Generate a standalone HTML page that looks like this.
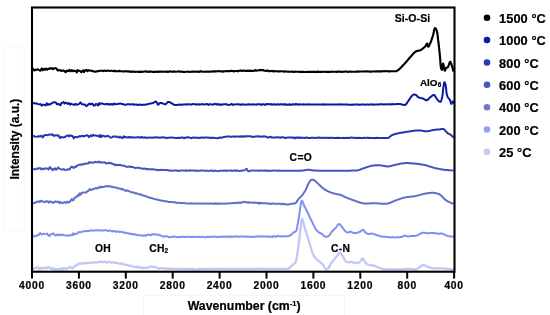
<!DOCTYPE html>
<html><head><meta charset="utf-8"><style>
html,body{margin:0;padding:0;background:#fff;width:550px;height:315px;overflow:hidden}
svg{display:block}
text{font-family:"Liberation Sans",Arial,sans-serif;font-weight:bold;fill:#000;stroke:#000;stroke-width:0.22px}
.tk{font-size:10.3px;letter-spacing:0.75px}
.lg{font-size:12.8px;letter-spacing:0.08px}
.an{font-size:10.3px;letter-spacing:0.35px}
.an2{font-size:9.9px}
.ax{font-size:12.3px}
.ay{font-size:11.95px}
</style></head><body>
<svg width="550" height="315" viewBox="0 0 550 315">
<rect x="4" y="46" width="20" height="185" fill="none" stroke="#f4f4f4" stroke-width="0.8"/>
<rect x="143.5" y="295.5" width="201" height="30" fill="none" stroke="#f6f6f6" stroke-width="0.8"/>
<path d="M33.0,268.6 L34.2,268.3 L35.4,268.3 L36.6,267.3 L37.8,267.4 L38.7,268.8 L39.8,268.3 L41.0,267.9 L42.1,268.7 L43.3,267.9 L44.6,267.9 L45.4,268.1 L46.3,268.3 L47.2,267.1 L48.2,267.6 L49.2,267.1 L50.4,268.6 L51.6,268.9 L52.8,268.0 L53.7,268.8 L54.6,269.6 L55.4,268.8 L56.3,269.1 L57.2,269.5 L58.1,269.1 L59.0,269.2 L59.9,269.6 L60.7,268.6 L62.0,268.1 L63.2,269.7 L64.3,268.0 L65.4,268.7 L66.4,268.9 L67.4,268.3 L68.3,267.7 L69.2,267.8 L70.4,267.1 L71.6,268.2 L72.6,268.2 L73.6,266.9 L74.6,266.3 L75.5,265.7 L76.4,265.1 L77.4,264.5 L78.5,263.9 L79.7,263.3 L80.9,263.6 L81.8,263.4 L82.7,264.0 L83.6,263.2 L84.7,263.4 L85.9,263.2 L87.0,263.0 L88.2,263.2 L89.4,262.9 L90.6,262.7 L91.9,262.6 L93.2,262.9 L94.4,262.3 L95.5,262.2 L96.7,262.4 L97.9,262.4 L99.1,261.7 L100.4,262.0 L101.6,262.0 L102.8,262.2 L104.0,262.0 L105.2,261.7 L106.4,262.6 L107.7,262.2 L108.9,261.9 L110.2,262.1 L111.4,262.6 L112.6,262.4 L113.8,262.4 L115.0,262.8 L116.2,262.9 L117.3,263.1 L118.2,263.3 L119.4,263.6 L120.6,263.4 L121.8,263.8 L123.0,263.9 L124.2,264.5 L125.4,264.8 L126.5,264.7 L127.7,265.1 L128.8,265.6 L130.0,266.1 L131.2,265.6 L132.4,266.2 L133.7,266.9 L134.9,266.8 L136.1,267.2 L137.3,266.6 L138.2,267.4 L139.1,267.2 L140.0,267.4 L140.9,267.9 L141.7,267.6 L142.6,267.9 L143.8,267.6 L145.0,268.1 L146.1,267.6 L147.3,268.0 L148.2,267.5 L149.4,267.1 L150.5,266.5 L151.6,266.7 L152.7,266.9 L153.6,266.6 L154.8,266.8 L155.9,267.2 L157.0,267.9 L158.0,268.5 L159.2,268.5 L160.1,268.3 L161.0,268.2 L162.2,268.2 L163.2,268.6 L164.5,268.5 L165.6,268.4 L166.4,268.5 L167.4,268.9 L168.5,268.4 L169.6,268.8 L170.7,268.8 L172.0,268.9 L172.8,268.9 L173.7,268.9 L174.6,268.9 L175.5,268.9 L176.5,269.0 L177.5,269.1 L178.5,269.0 L179.5,269.1 L180.4,268.9 L181.3,268.9 L182.3,268.9 L183.3,269.1 L184.3,268.9 L185.3,269.1 L186.4,269.2 L187.5,269.0 L188.6,269.0 L189.8,269.2 L190.9,269.0 L192.1,269.1 L193.3,269.0 L194.6,269.1 L195.8,269.3 L197.1,269.3 L198.3,269.2 L199.2,268.7 L200.0,269.3 L200.9,268.9 L201.8,269.1 L202.6,269.1 L203.5,269.0 L204.4,269.0 L205.3,268.9 L206.1,269.1 L207.0,269.1 L207.9,268.8 L208.8,269.2 L209.6,268.8 L210.5,268.9 L211.4,269.0 L212.3,268.9 L213.2,268.9 L214.0,268.8 L214.9,268.8 L215.8,268.9 L216.6,269.0 L217.5,268.9 L218.4,268.9 L219.2,269.1 L220.5,268.7 L221.7,268.9 L223.0,268.9 L224.2,268.9 L225.4,269.0 L226.6,268.8 L227.9,268.8 L229.1,269.0 L230.4,269.1 L231.3,269.0 L232.1,269.2 L233.0,269.2 L233.9,268.8 L234.7,268.8 L235.6,268.8 L236.5,268.8 L237.4,269.1 L238.3,268.8 L239.2,268.9 L240.0,268.8 L240.9,268.9 L241.8,268.8 L242.7,268.8 L243.6,268.8 L244.5,268.8 L245.4,269.2 L246.2,268.7 L247.1,269.1 L248.0,268.9 L248.9,268.8 L249.7,269.0 L250.6,269.2 L251.5,268.8 L252.3,269.0 L253.6,269.0 L254.8,269.0 L256.1,269.0 L257.3,268.9 L258.5,268.7 L259.6,268.9 L260.8,268.8 L261.9,268.7 L263.0,268.7 L264.0,269.0 L265.1,268.9 L266.1,268.9 L267.0,269.2 L268.0,268.9 L268.9,269.0 L269.7,268.9 L271.0,268.9 L272.0,268.8 L273.0,268.9 L273.9,268.9 L274.8,268.9 L275.7,269.3 L276.9,268.7 L278.0,269.0 L279.1,269.0 L280.1,268.8 L281.1,269.2 L282.0,269.1 L283.0,269.0 L283.8,268.9 L285.0,268.9 L285.3,269.0 L285.7,269.0 L286.0,269.0 L286.4,269.0 L286.8,269.0 L287.2,269.0 L287.6,268.9 L288.0,268.8 L288.3,268.6 L288.7,268.4 L289.0,268.2 L289.4,267.9 L289.7,267.6 L290.0,267.3 L290.4,267.0 L290.7,266.7 L291.0,266.4 L291.4,266.1 L291.7,265.8 L292.0,265.5 L292.4,265.2 L292.7,265.0 L293.0,264.7 L293.3,264.4 L293.7,264.1 L294.0,263.9 L294.4,263.6 L294.7,263.4 L295.0,263.1 L295.3,262.7 L295.5,262.4 L295.6,262.1 L295.8,261.8 L295.9,261.4 L296.0,261.0 L296.1,260.6 L296.2,260.2 L296.3,259.8 L296.4,259.4 L296.5,258.9 L296.6,258.5 L296.7,258.0 L296.8,257.7 L296.8,257.3 L296.9,256.9 L297.0,256.6 L297.0,256.2 L297.1,255.8 L297.2,255.4 L297.2,255.0 L297.3,254.6 L297.3,254.2 L297.4,253.8 L297.4,253.3 L297.5,252.9 L297.5,252.5 L297.6,252.1 L297.6,251.6 L297.7,251.2 L297.7,250.8 L297.8,250.4 L297.8,249.9 L297.9,249.5 L297.9,249.1 L298.0,248.7 L298.1,248.3 L298.1,247.9 L298.2,247.5 L298.2,247.1 L298.3,246.7 L298.3,246.3 L298.4,245.9 L298.5,245.5 L298.5,245.1 L298.6,244.7 L298.6,244.3 L298.7,243.9 L298.7,243.5 L298.8,243.0 L298.9,242.6 L298.9,242.2 L299.0,241.8 L299.0,241.4 L299.1,241.0 L299.1,240.6 L299.2,240.1 L299.2,239.7 L299.3,239.3 L299.3,238.9 L299.4,238.5 L299.4,238.1 L299.5,237.7 L299.5,237.3 L299.6,236.9 L299.6,236.5 L299.6,236.1 L299.7,235.7 L299.7,235.3 L299.8,234.9 L299.8,234.5 L299.8,234.0 L299.9,233.6 L299.9,233.2 L299.9,232.8 L300.0,232.4 L300.0,232.0 L300.1,231.6 L300.1,231.2 L300.2,230.8 L300.2,230.4 L300.2,230.0 L300.3,229.6 L300.3,229.2 L300.4,228.8 L300.4,228.4 L300.5,228.0 L300.6,227.6 L300.6,227.1 L300.7,226.6 L300.8,226.1 L300.8,225.5 L300.9,225.0 L301.0,224.4 L301.1,223.9 L301.1,223.4 L301.2,222.8 L301.3,222.3 L301.4,221.8 L301.4,221.4 L301.5,220.9 L301.6,220.5 L301.7,220.1 L301.8,219.8 L301.8,219.5 L301.9,219.3 L302.0,219.1 L302.1,219.0 L302.2,219.0 L302.3,219.0 L302.4,219.2 L302.5,219.4 L302.6,219.7 L302.8,220.1 L302.9,220.5 L303.0,220.9 L303.1,221.4 L303.2,221.9 L303.4,222.5 L303.5,223.0 L303.6,223.6 L303.7,224.1 L303.9,224.6 L304.0,225.1 L304.1,225.5 L304.2,225.9 L304.3,226.3 L304.5,226.7 L304.6,227.1 L304.7,227.5 L304.8,228.0 L304.9,228.4 L305.0,228.8 L305.2,229.2 L305.3,229.6 L305.4,230.0 L305.5,230.4 L305.6,230.8 L305.8,231.2 L305.9,231.6 L306.0,232.0 L306.1,232.4 L306.3,232.8 L306.4,233.2 L306.5,233.6 L306.6,234.0 L306.8,234.4 L306.9,234.7 L307.0,235.1 L307.2,235.5 L307.3,235.9 L307.5,236.3 L307.6,236.7 L307.7,237.1 L307.9,237.6 L308.0,238.0 L308.1,238.3 L308.2,238.7 L308.3,239.1 L308.4,239.4 L308.5,239.8 L308.7,240.2 L308.8,240.6 L308.9,241.0 L309.0,241.4 L309.1,241.8 L309.2,242.2 L309.3,242.6 L309.4,243.0 L309.5,243.4 L309.7,243.8 L309.8,244.2 L309.9,244.6 L310.0,245.0 L310.1,245.4 L310.2,245.8 L310.4,246.2 L310.5,246.6 L310.6,246.9 L310.7,247.3 L310.8,247.7 L311.0,248.1 L311.1,248.5 L311.2,249.0 L311.3,249.4 L311.5,249.8 L311.6,250.2 L311.7,250.6 L311.9,251.0 L312.0,251.4 L312.1,251.8 L312.3,252.2 L312.4,252.6 L312.5,253.0 L312.7,253.3 L312.8,253.7 L313.0,254.0 L313.1,254.4 L313.3,254.7 L313.5,255.1 L313.7,255.5 L313.9,255.8 L314.1,256.2 L314.3,256.5 L314.5,256.8 L314.8,257.2 L315.0,257.5 L315.2,257.8 L315.5,258.1 L315.7,258.4 L316.0,258.7 L316.3,259.0 L316.6,259.3 L316.9,259.6 L317.3,259.9 L317.6,260.2 L318.0,260.4 L318.3,260.7 L318.7,261.0 L319.0,261.2 L319.4,261.5 L319.7,261.7 L320.0,262.0 L320.3,262.3 L320.6,262.5 L320.9,262.8 L321.2,263.0 L321.5,263.3 L321.8,263.5 L322.1,263.8 L322.4,264.1 L322.7,264.4 L322.9,264.7 L323.2,265.0 L323.4,265.4 L323.7,265.8 L323.9,266.3 L324.1,266.7 L324.4,267.1 L324.6,267.6 L324.8,268.0 L325.1,268.3 L325.3,268.6 L325.5,268.9 L325.8,269.1 L326.0,269.2 L326.4,269.3 L326.8,269.2 L327.2,269.0 L327.6,268.8 L328.0,268.5 L328.2,268.3 L328.4,268.1 L328.6,267.8 L328.8,267.5 L329.0,267.2 L329.2,266.8 L329.4,266.4 L329.6,266.0 L329.8,265.7 L330.0,265.3 L330.2,264.8 L330.4,264.5 L330.7,264.1 L330.9,263.7 L331.1,263.3 L331.3,263.0 L331.5,262.6 L331.8,262.3 L332.0,262.0 L332.3,261.6 L332.6,261.3 L332.8,260.9 L333.1,260.6 L333.4,260.3 L333.6,260.0 L333.9,259.6 L334.1,259.3 L334.4,259.0 L334.7,258.7 L334.9,258.4 L335.2,258.0 L335.5,257.7 L335.8,257.4 L336.1,257.0 L336.3,256.7 L336.6,256.4 L336.9,256.0 L337.2,255.7 L337.4,255.4 L337.7,255.1 L338.0,254.7 L338.2,254.3 L338.5,253.9 L338.8,253.5 L339.0,253.2 L339.3,252.9 L339.5,252.7 L339.8,252.6 L340.0,252.7 L340.3,252.8 L340.6,253.0 L340.8,253.4 L341.1,253.7 L341.4,254.1 L341.6,254.5 L341.9,255.0 L342.2,255.4 L342.4,255.8 L342.7,256.2 L342.9,256.5 L343.1,256.9 L343.4,257.3 L343.6,257.6 L343.8,258.0 L344.0,258.4 L344.2,258.8 L344.4,259.2 L344.6,259.6 L344.9,259.9 L345.1,260.3 L345.3,260.6 L345.6,260.9 L345.8,261.1 L346.2,261.4 L346.5,261.7 L346.9,261.9 L347.3,262.1 L347.7,262.2 L348.1,262.3 L348.5,262.4 L348.9,262.4 L349.4,262.2 L349.8,262.1 L350.3,261.9 L350.7,261.7 L351.2,261.7 L351.6,261.7 L352.0,261.9 L352.3,262.0 L352.7,262.2 L353.1,262.4 L353.5,262.5 L354.0,262.7 L354.4,262.8 L354.8,262.9 L355.2,262.9 L355.6,263.0 L356.0,263.0 L356.5,263.0 L356.9,263.0 L357.4,263.0 L357.8,262.9 L358.2,262.8 L358.6,262.7 L359.0,262.6 L359.4,262.4 L359.7,262.2 L360.0,261.8 L360.3,261.5 L360.6,261.0 L360.9,260.6 L361.1,260.1 L361.4,259.7 L361.6,259.2 L361.9,258.9 L362.1,258.6 L362.4,258.5 L362.6,258.4 L362.8,258.5 L363.1,258.7 L363.3,259.0 L363.5,259.4 L363.7,259.8 L363.9,260.3 L364.1,260.7 L364.4,261.2 L364.6,261.7 L364.8,262.1 L365.1,262.4 L365.4,262.7 L365.7,263.0 L366.0,263.2 L366.3,263.5 L366.6,263.7 L366.9,263.9 L367.3,264.2 L367.6,264.4 L368.0,264.5 L368.4,264.7 L368.8,264.8 L369.1,264.9 L369.5,265.0 L369.9,265.1 L370.4,265.1 L370.8,265.2 L371.2,265.2 L371.7,265.3 L372.1,265.3 L372.5,265.3 L373.0,265.4 L373.4,265.5 L373.8,265.6 L374.2,265.7 L374.6,265.9 L375.0,266.0 L375.4,266.2 L375.7,266.3 L376.1,266.5 L376.5,266.7 L376.9,266.8 L377.3,267.0 L377.6,267.2 L378.0,267.4 L378.4,267.5 L378.8,267.7 L379.2,267.8 L379.6,267.9 L379.9,268.0 L380.3,268.2 L380.7,268.3 L381.0,268.4 L381.4,268.5 L381.7,268.6 L382.1,268.7 L382.5,268.8 L382.9,268.9 L383.3,269.0 L383.7,269.1 L384.2,269.1 L384.7,269.2 L385.0,269.2 L385.3,269.3 L385.6,269.3 L385.9,269.3 L386.3,269.4 L386.7,269.4 L387.0,269.4 L387.4,269.4 L387.8,269.4 L388.2,269.5 L388.6,269.5 L389.0,269.5 L389.5,269.5 L389.9,269.5 L390.3,269.5 L390.8,269.5 L391.2,269.5 L391.7,269.5 L392.2,269.5 L392.6,269.5 L393.1,269.5 L393.5,269.5 L394.0,269.5 L394.5,269.5 L394.9,269.5 L395.4,269.5 L395.9,269.5 L396.3,269.5 L396.8,269.5 L397.2,269.5 L397.7,269.5 L398.1,269.5 L398.5,269.4 L398.9,269.4 L399.4,269.4 L399.8,269.4 L400.2,269.4 L400.5,269.4 L400.9,269.4 L401.3,269.4 L401.6,269.4 L402.0,269.3 L402.3,269.3 L402.6,269.3 L402.9,269.3 L403.2,269.3 L403.7,269.3 L404.2,269.2 L404.6,269.2 L405.0,269.2 L405.4,269.1 L405.8,269.1 L406.1,269.0 L406.5,269.0 L406.9,269.0 L407.2,268.9 L407.7,268.9 L408.1,268.9 L408.5,268.9 L408.9,268.9 L409.3,268.9 L409.7,269.0 L410.1,269.0 L410.6,269.1 L411.0,269.1 L411.5,269.2 L411.9,269.2 L412.4,269.3 L412.8,269.4 L413.3,269.4 L413.7,269.4 L414.1,269.5 L414.6,269.5 L415.0,269.5 L415.4,269.5 L415.7,269.4 L416.1,269.4 L416.4,269.3 L416.9,269.1 L417.3,268.9 L417.6,268.7 L418.0,268.5 L418.3,268.2 L418.7,267.9 L419.0,267.6 L419.3,267.3 L419.7,267.1 L420.1,266.9 L420.4,266.6 L420.8,266.3 L421.1,266.1 L421.5,265.8 L421.8,265.6 L422.2,265.4 L422.6,265.2 L422.9,265.1 L423.3,265.0 L423.7,265.0 L424.0,265.1 L424.4,265.2 L424.8,265.4 L425.1,265.6 L425.5,265.8 L425.9,266.0 L426.3,266.2 L426.7,266.4 L427.1,266.6 L427.4,266.7 L427.8,266.9 L428.2,267.0 L428.5,267.1 L428.9,267.2 L429.3,267.4 L429.7,267.5 L430.0,267.6 L430.4,267.7 L430.8,267.9 L431.2,268.0 L431.6,268.1 L432.1,268.2 L432.5,268.2 L432.9,268.3 L433.3,268.3 L433.7,268.4 L434.1,268.4 L434.5,268.4 L434.9,268.4 L435.3,268.4 L435.7,268.4 L436.1,268.4 L436.6,268.4 L437.0,268.4 L437.4,268.4 L437.9,268.4 L438.3,268.3 L438.7,268.3 L439.2,268.3 L439.6,268.3 L440.0,268.3 L440.4,268.3 L440.8,268.3 L441.2,268.3 L441.6,268.3 L442.1,268.3 L442.5,268.4 L442.9,268.4 L443.4,268.4 L443.8,268.4 L444.2,268.5 L444.6,268.5 L445.0,268.5 L445.4,268.6 L445.8,268.6 L446.2,268.6 L446.6,268.7 L447.0,268.7 L447.4,268.8 L447.8,268.8 L448.2,268.9 L448.7,268.9 L449.1,269.0 L449.5,269.0 L449.9,269.1 L450.3,269.2 L450.8,269.2 L451.2,269.3 L451.6,269.4 L452.0,269.5 L452.4,269.5 L452.8,269.6" stroke="#c0c8f5" stroke-width="2.3" fill="none" stroke-linejoin="round" stroke-linecap="round"/>
<path d="M33.0,235.4 L34.2,236.6 L35.4,236.2 L36.5,236.1 L37.7,234.7 L38.9,234.9 L40.1,232.9 L41.3,234.4 L42.5,234.2 L43.7,233.6 L44.9,233.9 L46.1,234.0 L47.3,233.6 L48.4,235.6 L49.6,236.1 L50.9,234.1 L52.1,234.1 L53.3,233.3 L54.5,234.9 L55.7,235.6 L56.9,234.5 L58.1,235.5 L59.4,234.2 L60.2,234.9 L61.1,235.3 L62.0,234.5 L62.8,235.2 L63.7,234.8 L64.9,235.5 L66.2,235.7 L67.4,235.5 L68.5,235.2 L69.6,235.8 L70.9,234.9 L72.1,235.3 L73.2,233.3 L74.3,234.8 L75.4,233.7 L76.5,233.8 L77.7,233.1 L78.9,232.1 L80.1,232.2 L81.2,232.2 L82.4,231.4 L83.7,231.4 L84.9,231.1 L86.1,231.2 L87.3,230.9 L88.6,230.9 L89.8,230.8 L91.1,230.3 L92.3,230.4 L93.6,230.4 L94.8,230.5 L96.1,230.1 L97.3,230.5 L98.6,230.6 L99.8,230.1 L101.0,230.6 L102.3,230.4 L103.5,230.6 L104.8,230.3 L106.0,230.3 L107.3,230.7 L108.5,230.9 L109.7,230.3 L111.0,230.9 L112.2,231.5 L113.5,231.0 L114.7,231.3 L115.9,231.7 L117.2,231.3 L118.4,231.5 L119.7,232.2 L120.9,231.7 L122.1,231.9 L123.2,232.3 L124.4,233.1 L125.5,232.5 L126.7,233.2 L127.9,233.2 L129.1,233.9 L130.0,233.5 L131.1,233.9 L132.3,234.0 L133.5,234.5 L134.4,234.3 L135.3,234.5 L136.1,234.6 L137.0,235.0 L137.9,235.3 L138.8,234.9 L139.6,235.1 L140.9,235.6 L142.1,235.3 L143.2,235.8 L144.2,235.2 L145.5,236.0 L146.4,235.3 L147.6,234.6 L148.8,234.8 L150.0,234.9 L150.9,235.3 L151.7,234.5 L152.6,233.9 L153.4,234.5 L154.7,234.5 L155.9,234.2 L157.2,234.8 L158.4,234.7 L159.6,235.3 L160.8,235.5 L161.9,236.2 L163.0,236.7 L164.0,236.3 L165.0,236.4 L165.9,236.3 L166.8,236.3 L167.8,236.6 L168.8,237.0 L169.9,237.3 L171.1,236.9 L172.3,237.0 L173.5,236.5 L174.8,236.6 L175.7,236.8 L176.6,237.0 L177.5,237.0 L178.4,236.9 L179.3,237.4 L180.2,236.9 L181.2,236.8 L182.1,237.0 L183.1,236.6 L184.0,236.9 L185.1,236.9 L186.1,236.8 L187.2,236.8 L188.2,236.6 L189.3,237.1 L190.4,236.8 L191.6,236.9 L192.7,236.8 L193.9,237.0 L195.1,237.0 L196.3,236.8 L197.5,236.8 L198.8,236.9 L200.0,236.8 L201.3,237.1 L202.2,236.7 L203.0,236.8 L203.9,236.9 L204.7,237.3 L205.6,237.3 L206.5,236.8 L207.3,237.0 L208.2,236.7 L209.1,237.0 L209.9,236.7 L210.8,236.7 L211.7,236.9 L212.5,236.6 L213.4,236.9 L214.3,236.6 L215.1,236.6 L216.0,236.6 L216.8,237.0 L218.1,236.9 L219.4,236.7 L220.6,236.6 L221.9,237.1 L223.1,236.4 L224.3,236.6 L225.5,236.8 L226.6,236.6 L227.8,236.8 L228.9,236.5 L230.0,236.9 L230.9,236.4 L231.8,236.9 L232.6,236.6 L233.5,237.0 L234.3,236.5 L235.6,236.2 L236.9,236.7 L238.1,236.4 L239.3,236.8 L240.6,236.4 L241.8,236.6 L243.0,236.5 L244.2,236.7 L245.4,236.4 L246.5,236.8 L247.7,236.5 L248.9,236.9 L250.0,236.6 L251.2,237.1 L252.4,236.8 L253.5,236.7 L254.7,236.7 L255.8,236.5 L256.9,236.7 L258.1,236.1 L259.2,236.5 L260.4,236.8 L261.3,236.0 L262.2,236.5 L263.1,236.8 L264.0,236.6 L264.9,236.4 L265.8,236.4 L266.7,236.3 L267.7,237.0 L268.6,236.6 L269.6,236.7 L270.5,236.4 L271.4,236.9 L272.3,236.9 L273.3,236.1 L274.2,236.6 L275.0,236.5 L275.9,236.9 L276.8,236.0 L278.0,235.9 L279.2,236.3 L280.3,236.5 L281.4,236.4 L282.4,236.0 L283.3,236.4 L284.3,236.4 L285.6,236.2 L286.1,236.2 L286.5,236.3 L286.9,236.3 L287.2,236.3 L287.6,236.3 L288.0,236.2 L288.4,236.1 L288.8,236.0 L289.1,235.8 L289.5,235.7 L289.9,235.5 L290.3,235.3 L290.6,235.1 L291.0,234.9 L291.3,234.7 L291.6,234.4 L291.9,234.1 L292.2,233.8 L292.5,233.5 L292.7,233.2 L293.0,232.9 L293.3,232.6 L293.7,232.4 L294.1,232.2 L294.6,232.1 L295.0,231.9 L295.4,231.7 L295.8,231.4 L296.0,231.2 L296.1,230.9 L296.3,230.6 L296.4,230.3 L296.5,229.9 L296.7,229.5 L296.8,229.1 L296.9,228.7 L297.0,228.3 L297.0,227.8 L297.1,227.4 L297.2,226.9 L297.3,226.4 L297.4,226.0 L297.4,225.5 L297.5,225.1 L297.6,224.6 L297.7,224.2 L297.8,223.8 L297.9,223.4 L297.9,223.0 L298.0,222.6 L298.1,222.2 L298.2,221.8 L298.2,221.4 L298.3,221.0 L298.4,220.6 L298.4,220.2 L298.5,219.8 L298.6,219.4 L298.6,219.0 L298.7,218.6 L298.8,218.2 L298.8,217.8 L298.9,217.3 L298.9,216.9 L299.0,216.5 L299.1,216.1 L299.1,215.7 L299.2,215.3 L299.3,214.9 L299.3,214.5 L299.4,214.1 L299.4,213.7 L299.5,213.2 L299.6,212.8 L299.6,212.4 L299.7,212.0 L299.7,211.6 L299.8,211.1 L299.8,210.7 L299.9,210.3 L300.0,209.9 L300.0,209.5 L300.1,209.1 L300.1,208.7 L300.2,208.3 L300.2,207.9 L300.3,207.5 L300.4,207.1 L300.4,206.8 L300.5,206.4 L300.6,205.9 L300.7,205.4 L300.7,204.9 L300.8,204.4 L300.9,203.8 L301.0,203.3 L301.1,202.8 L301.2,202.3 L301.3,201.9 L301.4,201.5 L301.5,201.2 L301.6,200.9 L301.7,200.8 L301.8,200.7 L302.0,200.8 L302.3,201.1 L302.5,201.6 L302.8,202.1 L303.0,202.6 L303.2,203.0 L303.3,203.4 L303.4,203.8 L303.6,204.2 L303.7,204.6 L303.8,205.0 L303.9,205.4 L304.1,205.8 L304.3,206.2 L304.6,206.6 L304.8,206.9 L305.0,207.3 L305.3,207.7 L305.5,208.0 L305.7,208.4 L305.8,208.7 L306.0,209.1 L306.2,209.5 L306.4,209.9 L306.6,210.3 L306.8,210.7 L307.0,211.1 L307.2,211.5 L307.4,211.8 L307.5,212.2 L307.7,212.6 L307.9,212.9 L308.0,213.3 L308.2,213.7 L308.4,214.1 L308.6,214.5 L308.7,214.9 L308.9,215.3 L309.1,215.7 L309.3,216.1 L309.4,216.4 L309.6,216.8 L309.8,217.2 L310.0,217.6 L310.2,217.9 L310.3,218.3 L310.5,218.7 L310.7,219.0 L310.9,219.4 L311.0,219.7 L311.2,220.1 L311.4,220.4 L311.6,220.8 L311.7,221.2 L311.9,221.5 L312.1,221.9 L312.3,222.3 L312.5,222.7 L312.7,223.0 L312.8,223.4 L313.0,223.8 L313.2,224.2 L313.4,224.6 L313.6,225.0 L313.8,225.4 L314.0,225.8 L314.1,226.2 L314.3,226.6 L314.5,227.0 L314.7,227.4 L314.9,227.7 L315.1,228.1 L315.3,228.4 L315.5,228.7 L315.8,229.1 L316.0,229.5 L316.3,229.9 L316.5,230.2 L316.8,230.6 L317.1,230.9 L317.4,231.2 L317.7,231.5 L318.0,231.8 L318.3,232.0 L318.7,232.3 L319.1,232.5 L319.5,232.7 L319.9,232.8 L320.3,233.0 L320.7,233.2 L321.1,233.4 L321.5,233.6 L321.8,233.8 L322.2,234.1 L322.5,234.4 L322.8,234.8 L323.1,235.1 L323.4,235.5 L323.7,235.8 L324.0,236.0 L324.4,236.2 L324.8,236.4 L325.2,236.6 L325.7,236.7 L326.1,236.8 L326.5,236.8 L326.9,236.7 L327.2,236.6 L327.6,236.5 L327.9,236.3 L328.3,236.0 L328.7,235.8 L329.0,235.5 L329.3,235.3 L329.5,235.0 L329.7,234.7 L330.0,234.4 L330.2,234.1 L330.5,233.7 L330.7,233.4 L330.9,233.0 L331.2,232.6 L331.4,232.3 L331.7,231.9 L331.9,231.6 L332.2,231.3 L332.5,231.0 L332.8,230.7 L333.1,230.4 L333.4,230.1 L333.7,229.8 L334.0,229.5 L334.3,229.2 L334.6,228.9 L334.9,228.6 L335.2,228.3 L335.5,228.0 L335.8,227.7 L336.1,227.4 L336.4,227.0 L336.6,226.6 L336.9,226.2 L337.2,225.8 L337.5,225.4 L337.7,225.0 L338.0,224.7 L338.3,224.4 L338.6,224.2 L338.8,224.1 L339.1,224.0 L339.4,224.0 L339.7,224.2 L339.9,224.4 L340.2,224.7 L340.5,225.0 L340.8,225.4 L341.1,225.8 L341.3,226.2 L341.6,226.6 L341.9,227.0 L342.2,227.3 L342.5,227.6 L342.7,227.9 L343.0,228.2 L343.2,228.6 L343.5,228.9 L343.7,229.3 L344.0,229.6 L344.2,230.0 L344.5,230.3 L344.8,230.6 L345.0,230.9 L345.3,231.2 L345.5,231.4 L345.8,231.6 L346.2,231.8 L346.6,232.1 L347.0,232.2 L347.4,232.4 L347.8,232.5 L348.1,232.5 L348.5,232.5 L348.9,232.4 L349.2,232.2 L349.6,231.9 L349.9,231.7 L350.3,231.6 L350.6,231.6 L351.0,231.8 L351.4,231.9 L351.8,232.2 L352.2,232.4 L352.6,232.6 L353.1,232.8 L353.5,233.0 L353.9,233.1 L354.3,233.1 L354.7,233.2 L355.1,233.1 L355.5,233.1 L355.9,233.1 L356.3,233.0 L356.7,232.9 L357.1,232.8 L357.5,232.7 L357.9,232.6 L358.3,232.4 L358.7,232.3 L359.1,232.1 L359.4,231.9 L359.8,231.7 L360.2,231.5 L360.6,231.3 L360.9,231.1 L361.2,230.9 L361.6,230.6 L362.0,230.3 L362.3,230.0 L362.6,229.8 L363.0,229.8 L363.3,229.9 L363.6,230.1 L363.9,230.4 L364.2,230.8 L364.5,231.2 L364.8,231.7 L365.1,232.1 L365.4,232.4 L365.7,232.7 L366.1,233.0 L366.4,233.2 L366.8,233.4 L367.2,233.6 L367.6,233.8 L368.0,233.9 L368.4,234.0 L368.8,234.0 L369.1,234.0 L369.5,234.0 L369.9,233.9 L370.3,233.8 L370.7,233.7 L371.1,233.6 L371.6,233.6 L372.0,233.6 L372.4,233.6 L372.7,233.7 L373.1,233.8 L373.5,233.9 L373.9,234.0 L374.2,234.2 L374.6,234.3 L375.0,234.5 L375.4,234.6 L375.8,234.8 L376.2,234.9 L376.6,235.1 L377.0,235.2 L377.4,235.3 L377.8,235.4 L378.2,235.5 L378.5,235.6 L378.9,235.7 L379.2,235.9 L379.6,236.0 L379.9,236.1 L380.3,236.3 L381.5,236.5 L382.4,236.5 L383.5,236.8 L384.5,236.7 L385.7,236.8 L386.9,237.1 L387.8,237.0 L388.7,237.0 L389.6,237.2 L390.6,237.4 L391.5,237.3 L392.5,237.1 L393.4,237.3 L394.4,237.4 L395.3,237.5 L396.2,237.2 L397.0,237.2 L398.3,237.3 L399.4,237.4 L400.1,237.1 L400.4,237.0 L400.7,237.0 L401.0,237.0 L401.3,236.9 L401.5,236.9 L402.1,236.8 L402.5,236.6 L402.9,236.4 L403.3,236.2 L403.7,236.0 L404.0,235.9 L404.4,235.8 L404.8,235.7 L405.2,235.7 L405.6,235.8 L406.0,235.9 L406.4,236.1 L406.9,236.2 L407.3,236.4 L407.7,236.5 L408.1,236.5 L408.5,236.5 L408.9,236.4 L409.3,236.4 L409.7,236.3 L410.1,236.2 L410.5,236.1 L411.0,236.0 L411.4,235.9 L411.8,235.9 L412.2,235.9 L412.6,235.9 L413.0,235.9 L413.5,235.9 L413.9,235.9 L414.4,235.9 L414.8,235.9 L415.2,235.9 L415.6,235.8 L416.0,235.8 L416.4,235.7 L416.8,235.6 L417.2,235.4 L417.6,235.2 L417.9,235.0 L418.3,234.8 L418.6,234.6 L419.0,234.4 L419.3,234.2 L419.7,234.0 L420.1,233.8 L420.5,233.6 L420.9,233.4 L421.3,233.2 L421.7,233.1 L422.1,232.9 L422.5,232.8 L423.0,232.7 L423.4,232.7 L423.8,232.7 L424.2,232.7 L424.6,232.7 L425.0,232.8 L425.4,232.9 L425.9,232.9 L426.3,233.0 L426.7,233.1 L427.2,233.1 L427.6,233.2 L428.0,233.2 L428.4,233.2 L428.8,233.2 L429.2,233.2 L429.6,233.1 L430.0,233.1 L430.5,233.0 L430.9,233.0 L431.3,232.9 L431.7,232.9 L432.1,232.9 L432.5,232.9 L432.9,232.9 L433.3,232.9 L433.7,233.0 L434.2,233.0 L434.6,233.1 L435.0,233.2 L435.4,233.3 L435.8,233.4 L436.3,233.5 L436.7,233.5 L437.1,233.6 L437.5,233.7 L437.9,233.7 L438.3,233.7 L438.7,233.7 L439.2,233.7 L439.6,233.6 L440.0,233.6 L440.4,233.5 L440.8,233.5 L441.2,233.5 L441.6,233.5 L442.0,233.6 L442.4,233.7 L442.8,233.8 L443.1,233.9 L443.5,234.1 L443.9,234.3 L444.3,234.5 L444.7,234.7 L445.1,234.9 L445.5,235.1 L445.9,235.3 L446.2,235.4 L446.6,235.6 L447.0,235.7 L447.4,235.8 L447.9,235.9 L448.3,236.0 L448.7,236.1 L449.1,236.2 L449.5,236.3 L450.0,236.4 L450.3,236.4 L450.7,236.5 L451.1,236.5 L451.6,236.5 L452.0,236.5 L452.4,236.5 L452.8,236.5 L453.2,236.5 L453.6,236.5" stroke="#8090ee" stroke-width="2.0" fill="none" stroke-linejoin="round" stroke-linecap="round"/>
<path d="M33.0,203.2 L34.2,203.1 L35.3,202.7 L36.4,201.8 L37.7,201.9 L38.6,201.2 L39.7,202.1 L40.7,200.7 L41.8,201.2 L43.0,201.4 L44.3,202.0 L45.1,202.1 L46.0,201.3 L46.9,201.5 L47.8,201.3 L48.7,202.6 L49.6,201.9 L50.4,201.2 L51.3,202.2 L52.2,202.4 L53.1,202.9 L54.3,201.8 L55.5,201.5 L56.6,202.1 L57.8,201.6 L58.7,201.5 L59.6,203.2 L60.5,202.0 L61.4,202.6 L62.6,203.2 L63.8,202.4 L64.9,202.0 L66.0,203.1 L67.3,201.6 L68.5,202.5 L69.6,202.1 L70.7,200.6 L71.8,199.0 L72.8,200.5 L73.7,199.8 L74.7,197.4 L75.6,197.5 L76.6,197.1 L77.6,195.3 L78.6,195.8 L79.7,193.2 L80.7,194.6 L81.8,192.9 L83.0,192.4 L84.1,192.6 L85.2,192.6 L86.3,192.4 L87.4,191.2 L88.6,190.8 L89.7,189.0 L90.9,190.1 L92.1,189.5 L93.2,189.0 L94.4,188.7 L95.6,188.0 L96.8,188.6 L98.1,187.6 L99.3,187.7 L100.5,186.6 L101.6,187.5 L102.7,186.8 L103.6,186.9 L104.5,186.7 L105.7,186.2 L106.9,186.0 L108.2,186.6 L109.4,186.1 L110.6,186.7 L111.8,186.6 L113.0,187.2 L114.3,187.3 L115.5,187.6 L116.7,187.7 L117.9,188.5 L119.1,188.6 L120.3,188.7 L121.5,189.4 L122.7,188.9 L123.8,189.9 L125.0,190.4 L126.1,191.0 L127.2,190.3 L128.4,190.9 L129.6,191.3 L130.7,192.1 L131.9,192.3 L133.0,192.5 L134.2,192.6 L135.4,193.4 L136.6,193.2 L137.8,193.9 L139.1,194.4 L140.2,194.2 L141.3,194.5 L142.4,195.4 L143.5,195.5 L144.7,195.9 L145.8,196.3 L147.0,196.6 L148.2,197.3 L149.4,197.3 L150.6,198.1 L151.8,198.0 L152.9,198.6 L154.1,198.9 L155.2,199.1 L156.4,199.6 L157.5,199.5 L158.7,200.1 L159.9,200.2 L161.1,200.6 L162.3,200.7 L163.5,201.1 L164.7,201.2 L166.0,201.2 L167.2,201.4 L168.3,201.9 L169.5,201.9 L170.7,201.9 L171.9,202.1 L173.1,202.2 L174.3,202.1 L175.5,202.5 L176.7,203.0 L178.0,202.8 L179.2,202.7 L180.4,202.9 L181.7,203.2 L182.9,203.1 L184.1,203.1 L185.3,203.3 L186.5,203.4 L187.7,203.5 L188.9,203.5 L190.0,203.4 L191.2,203.3 L192.4,203.6 L193.6,203.6 L194.8,203.5 L196.0,203.6 L197.2,203.6 L198.4,203.4 L199.7,203.7 L200.5,203.6 L201.4,203.4 L202.3,203.5 L203.4,203.8 L204.6,203.5 L205.7,203.6 L206.9,203.6 L208.1,203.8 L209.4,203.6 L210.7,203.5 L211.5,203.6 L212.4,203.5 L213.2,203.6 L214.1,204.0 L215.0,203.3 L215.8,203.7 L216.7,203.6 L217.6,203.7 L218.4,203.6 L219.3,203.8 L220.5,203.5 L221.8,203.7 L223.0,203.6 L224.2,203.6 L225.4,203.7 L226.5,203.6 L227.6,203.6 L228.7,203.4 L229.7,203.3 L230.9,203.3 L231.8,203.2 L233.0,203.0 L234.2,202.9 L235.3,203.4 L236.4,202.7 L237.4,202.8 L238.6,203.0 L239.8,202.4 L240.6,203.0 L241.5,202.6 L242.6,202.1 L243.6,201.8 L244.7,202.1 L245.8,202.2 L246.9,202.3 L248.1,202.7 L249.2,202.3 L250.5,202.6 L251.7,202.7 L252.9,202.8 L254.2,202.6 L255.1,202.8 L255.9,202.8 L256.8,202.9 L257.6,202.8 L258.5,203.0 L259.3,203.6 L260.2,202.9 L261.1,203.2 L261.9,202.9 L263.2,203.3 L264.4,203.2 L265.7,203.3 L266.9,203.5 L268.1,203.4 L269.2,203.2 L270.4,204.1 L271.3,204.0 L272.2,203.3 L273.1,203.7 L274.0,203.8 L274.9,203.6 L275.8,203.9 L276.8,203.7 L277.7,203.8 L278.6,203.7 L279.5,203.8 L280.4,203.7 L281.3,204.2 L282.2,204.1 L283.1,203.8 L284.0,204.0 L285.2,204.2 L286.4,204.5 L287.5,204.4 L288.6,204.5 L289.6,204.1 L290.3,203.9 L290.6,203.9 L290.8,203.9 L291.1,203.9 L291.4,203.9 L291.7,203.8 L291.9,203.8 L292.4,203.7 L292.9,203.7 L293.4,203.6 L293.8,203.6 L294.2,203.5 L294.6,203.4 L294.9,203.3 L295.3,203.2 L295.6,203.0 L295.9,202.8 L296.2,202.5 L296.5,202.2 L296.7,201.9 L296.9,201.5 L297.1,201.1 L297.4,200.7 L297.6,200.3 L297.8,199.9 L298.1,199.5 L298.3,199.2 L298.6,198.9 L298.9,198.6 L299.2,198.3 L299.4,198.1 L299.7,197.8 L300.0,197.5 L300.4,197.2 L300.7,196.9 L301.0,196.6 L301.3,196.3 L301.5,195.9 L301.8,195.6 L302.1,195.3 L302.4,195.0 L302.6,194.6 L302.9,194.3 L303.1,194.0 L303.3,193.6 L303.6,193.3 L303.8,192.9 L304.1,192.6 L304.3,192.2 L304.5,191.9 L304.7,191.5 L305.0,191.1 L305.2,190.8 L305.4,190.4 L305.6,190.0 L305.8,189.6 L306.0,189.3 L306.1,188.9 L306.3,188.5 L306.5,188.1 L306.7,187.7 L306.8,187.3 L307.0,187.0 L307.1,186.6 L307.3,186.2 L307.4,185.8 L307.6,185.4 L307.8,185.0 L307.9,184.7 L308.1,184.3 L308.2,184.0 L308.4,183.7 L308.6,183.3 L308.9,182.9 L309.1,182.5 L309.3,182.1 L309.6,181.7 L309.8,181.3 L310.0,181.0 L310.3,180.7 L310.5,180.5 L310.8,180.2 L311.2,180.0 L311.5,179.8 L311.9,179.7 L312.3,179.7 L312.7,179.7 L313.1,179.9 L313.5,180.0 L313.9,180.2 L314.2,180.3 L314.5,180.6 L314.9,180.8 L315.3,181.1 L315.6,181.3 L315.8,181.5 L316.1,181.8 L316.4,182.1 L316.7,182.4 L317.0,182.7 L317.4,183.0 L317.7,183.3 L318.0,183.6 L318.3,184.0 L318.7,184.3 L319.0,184.6 L319.3,184.9 L319.6,185.2 L319.9,185.4 L320.2,185.7 L320.5,186.0 L320.8,186.3 L321.0,186.5 L321.3,186.8 L321.6,187.1 L321.9,187.4 L322.3,187.6 L322.6,187.9 L322.9,188.1 L323.2,188.4 L323.6,188.7 L323.9,188.9 L324.2,189.1 L324.5,189.3 L324.9,189.5 L325.2,189.8 L325.6,190.0 L325.9,190.2 L326.3,190.4 L326.6,190.6 L327.0,190.8 L327.4,191.0 L327.7,191.2 L328.1,191.3 L328.5,191.5 L328.8,191.7 L329.2,191.9 L329.6,192.0 L330.0,192.2 L330.3,192.4 L330.7,192.5 L331.1,192.7 L331.5,192.8 L331.9,192.9 L332.4,193.1 L332.8,193.2 L333.3,193.3 L333.7,193.4 L334.1,193.5 L334.6,193.6 L335.0,193.7 L335.4,193.8 L335.8,193.9 L336.2,194.0 L336.6,194.1 L336.9,194.2 L337.3,194.2 L337.6,194.3 L338.1,194.4 L338.5,194.4 L338.8,194.5 L339.2,194.5 L339.6,194.6 L340.0,194.7 L340.3,194.8 L340.6,194.9 L340.9,195.0 L341.3,195.2 L341.6,195.4 L342.0,195.5 L342.4,195.7 L342.8,195.9 L343.1,196.1 L343.5,196.3 L343.9,196.5 L344.4,196.7 L344.8,196.9 L345.2,197.1 L345.6,197.2 L346.0,197.4 L346.4,197.6 L346.8,197.7 L347.1,197.9 L347.5,198.0 L347.9,198.2 L348.3,198.3 L348.6,198.5 L349.0,198.6 L349.4,198.8 L349.8,198.9 L350.2,199.1 L350.6,199.2 L351.0,199.4 L351.4,199.5 L351.8,199.7 L352.2,199.8 L352.6,200.0 L353.0,200.1 L353.4,200.3 L353.8,200.4 L354.2,200.5 L354.6,200.7 L355.0,200.8 L355.4,200.9 L355.8,201.1 L356.2,201.2 L356.5,201.3 L356.9,201.5 L357.3,201.6 L357.7,201.8 L358.1,201.9 L358.5,202.0 L358.8,202.2 L359.2,202.3 L359.6,202.4 L360.0,202.6 L360.4,202.7 L360.8,202.8 L361.2,202.9 L361.6,203.0 L362.0,203.1 L362.4,203.2 L362.8,203.3 L363.2,203.3 L363.6,203.4 L364.0,203.4 L364.4,203.5 L364.8,203.5 L365.2,203.5 L365.6,203.6 L366.0,203.6 L366.4,203.6 L366.8,203.6 L367.2,203.5 L367.6,203.5 L368.0,203.5 L368.4,203.5 L368.8,203.5 L369.2,203.4 L369.6,203.4 L370.0,203.4 L370.5,203.4 L370.9,203.3 L371.3,203.3 L371.7,203.3 L372.2,203.3 L372.6,203.2 L373.0,203.2 L373.4,203.2 L373.9,203.2 L374.3,203.2 L374.7,203.2 L375.1,203.2 L375.5,203.2 L375.9,203.3 L376.3,203.3 L376.7,203.3 L377.1,203.3 L377.5,203.4 L377.9,203.4 L378.3,203.4 L378.8,203.5 L379.2,203.5 L379.6,203.5 L380.0,203.6 L380.4,203.6 L380.9,203.6 L381.3,203.7 L381.7,203.7 L382.1,203.7 L382.5,203.8 L382.9,203.8 L383.3,203.8 L383.8,203.8 L384.2,203.8 L384.6,203.8 L384.9,203.8 L385.3,203.8 L385.7,203.8 L386.1,203.7 L386.5,203.7 L386.8,203.7 L387.2,203.6 L387.6,203.5 L388.1,203.4 L388.5,203.3 L388.9,203.2 L389.3,203.1 L389.7,203.0 L390.1,202.8 L390.5,202.7 L390.9,202.5 L391.2,202.3 L391.6,202.2 L392.0,202.0 L392.4,201.8 L392.8,201.7 L393.1,201.5 L393.5,201.3 L393.9,201.2 L394.3,201.0 L394.6,200.8 L395.0,200.7 L395.4,200.5 L395.8,200.4 L396.2,200.3 L396.6,200.1 L397.0,200.0 L397.3,199.8 L397.7,199.7 L398.1,199.6 L398.5,199.4 L398.9,199.3 L399.3,199.2 L399.6,199.0 L400.0,198.9 L400.4,198.8 L400.8,198.6 L401.2,198.5 L401.6,198.4 L402.0,198.3 L402.4,198.1 L402.8,198.0 L403.2,197.9 L403.6,197.8 L404.0,197.7 L404.4,197.6 L404.8,197.5 L405.1,197.4 L405.5,197.4 L405.9,197.3 L406.3,197.2 L406.7,197.2 L407.1,197.1 L407.5,197.1 L407.9,197.0 L408.3,197.0 L408.7,196.9 L409.1,196.9 L409.5,196.8 L409.9,196.8 L410.3,196.8 L410.7,196.7 L411.1,196.7 L411.5,196.6 L411.9,196.6 L412.3,196.5 L412.7,196.5 L413.1,196.4 L413.5,196.4 L413.9,196.3 L414.3,196.2 L414.7,196.2 L415.1,196.1 L415.5,196.0 L415.9,195.9 L416.3,195.8 L416.7,195.8 L417.1,195.7 L417.5,195.6 L417.9,195.5 L418.3,195.3 L418.7,195.2 L419.1,195.1 L419.5,195.0 L419.9,194.9 L420.3,194.8 L420.7,194.7 L421.1,194.6 L421.5,194.5 L421.9,194.4 L422.3,194.3 L422.7,194.2 L423.1,194.1 L423.5,194.0 L423.9,193.9 L424.3,193.8 L424.7,193.7 L425.0,193.6 L425.4,193.6 L425.8,193.5 L426.2,193.4 L426.7,193.4 L427.1,193.3 L427.5,193.2 L428.0,193.2 L428.4,193.1 L428.8,193.1 L429.2,193.0 L429.7,193.0 L430.1,192.9 L430.5,192.9 L430.9,192.9 L431.3,192.8 L431.7,192.8 L432.1,192.8 L432.5,192.8 L432.9,192.8 L433.3,192.8 L433.7,192.8 L434.0,192.9 L434.4,192.9 L434.8,193.0 L435.2,193.0 L435.7,193.1 L436.1,193.2 L436.4,193.3 L436.8,193.4 L437.2,193.5 L437.6,193.6 L437.9,193.7 L438.3,193.9 L438.7,194.0 L439.1,194.2 L439.4,194.4 L439.8,194.6 L440.1,194.8 L440.4,195.0 L440.7,195.2 L441.0,195.5 L441.3,195.8 L441.6,196.0 L441.9,196.3 L442.2,196.6 L442.5,196.9 L442.8,197.2 L443.1,197.6 L443.4,197.9 L443.7,198.2 L444.0,198.5 L444.3,198.8 L444.6,199.1 L444.9,199.4 L445.3,199.7 L445.6,199.9 L445.9,200.2 L446.2,200.4 L446.5,200.6 L446.9,200.8 L447.2,201.1 L447.6,201.2 L448.0,201.4 L448.3,201.6 L448.7,201.8 L449.0,202.0 L449.4,202.1 L449.8,202.3 L450.1,202.4 L450.5,202.6 L450.9,202.8 L451.2,202.9 L451.6,203.1 L452.0,203.3 L452.3,203.4 L452.7,203.6" stroke="#6070c8" stroke-width="2.0" fill="none" stroke-linejoin="round" stroke-linecap="round"/>
<path d="M33.0,169.3 L34.2,169.3 L35.4,169.2 L36.6,168.5 L37.8,168.9 L39.0,168.2 L40.2,168.1 L41.4,169.5 L42.6,168.5 L43.8,169.2 L45.0,168.3 L46.2,168.6 L47.4,168.6 L48.6,169.4 L49.9,167.1 L50.8,168.6 L51.6,168.6 L52.5,170.3 L53.4,169.1 L54.3,169.3 L55.2,168.2 L56.1,169.6 L57.0,168.9 L58.2,167.4 L59.4,168.6 L60.5,169.1 L61.5,169.4 L62.4,169.7 L63.7,169.1 L64.8,169.8 L66.0,169.9 L67.2,169.4 L68.4,169.3 L69.6,169.4 L70.8,167.2 L72.0,166.6 L73.2,167.7 L74.1,167.8 L75.2,166.5 L76.3,166.8 L77.4,165.4 L78.6,164.9 L79.8,164.6 L81.0,164.7 L82.2,164.3 L83.4,164.4 L84.6,163.6 L85.8,163.7 L87.0,163.4 L88.2,163.4 L89.1,162.0 L90.2,162.8 L91.4,162.5 L92.7,162.6 L93.9,162.7 L95.2,161.7 L96.5,162.1 L97.7,162.5 L98.9,161.6 L100.2,162.5 L101.4,162.2 L102.6,162.6 L103.9,162.6 L105.1,162.3 L106.3,163.7 L107.6,163.1 L108.8,162.7 L110.0,163.4 L111.2,163.1 L112.4,164.0 L113.7,163.9 L114.9,165.3 L116.1,164.6 L117.4,165.2 L118.6,164.9 L119.8,164.8 L121.0,165.2 L122.2,165.5 L123.3,165.8 L124.6,165.8 L125.8,166.6 L127.1,166.9 L127.9,166.6 L129.1,166.7 L130.2,166.5 L131.3,167.1 L132.5,167.1 L133.7,167.3 L134.9,168.0 L136.1,167.9 L137.3,167.6 L138.5,167.9 L139.8,167.8 L141.1,168.4 L141.9,168.6 L142.8,168.7 L143.6,168.8 L144.5,168.5 L145.6,168.7 L146.8,169.3 L148.0,169.0 L149.2,169.2 L150.4,169.4 L151.6,169.1 L152.9,169.2 L154.1,169.4 L155.4,169.7 L156.6,169.7 L157.9,170.2 L159.1,169.9 L160.4,169.9 L161.6,169.8 L162.8,169.9 L164.0,170.1 L165.2,170.0 L166.4,170.3 L167.6,169.8 L168.9,170.5 L170.1,170.8 L171.3,170.4 L172.4,170.9 L173.6,170.4 L174.7,170.6 L175.9,170.5 L177.1,170.4 L178.3,171.0 L179.5,170.7 L180.7,170.5 L181.9,170.5 L183.2,170.5 L184.1,170.6 L185.2,170.8 L186.3,170.2 L187.5,170.8 L188.7,170.8 L189.9,170.2 L191.1,170.5 L192.3,170.5 L193.5,170.6 L194.8,170.8 L196.0,170.5 L197.3,170.7 L198.6,170.7 L199.8,170.8 L201.1,170.6 L202.3,170.5 L203.6,170.6 L204.8,170.9 L206.0,170.6 L207.2,170.7 L208.4,170.9 L209.6,170.8 L210.7,170.5 L211.8,170.8 L212.7,170.6 L213.6,171.2 L214.4,170.7 L215.3,170.6 L216.6,170.9 L217.8,171.2 L219.1,170.9 L220.3,170.6 L221.5,170.7 L222.7,170.7 L223.9,170.5 L225.0,170.7 L226.2,170.5 L227.3,170.9 L228.5,170.6 L229.6,170.6 L230.9,170.4 L231.7,171.0 L232.6,170.7 L233.6,170.8 L234.5,170.3 L235.4,170.6 L236.3,171.0 L237.2,170.3 L238.0,170.7 L239.3,171.0 L240.5,170.7 L241.6,170.8 L242.6,170.3 L243.5,170.6 L244.5,170.3 L245.0,170.0 L245.4,169.7 L245.8,169.3 L246.1,169.1 L246.4,168.9 L246.7,168.9 L247.0,169.1 L247.2,169.5 L247.4,170.0 L247.6,170.5 L247.9,170.9 L248.2,171.2 L248.5,171.3 L248.8,171.3 L249.2,171.3 L249.6,171.2 L250.0,171.0 L250.4,170.8 L251.4,170.6 L252.5,170.6 L253.4,170.4 L254.3,170.6 L255.4,170.7 L256.5,170.4 L257.6,170.7 L258.8,170.5 L260.1,170.7 L261.0,170.4 L261.8,170.5 L262.7,170.7 L263.6,170.8 L264.5,170.4 L265.4,170.9 L266.4,170.5 L267.3,170.7 L268.2,170.7 L269.1,171.1 L270.0,170.6 L271.1,170.7 L272.2,170.7 L273.4,170.4 L274.7,170.6 L275.5,170.6 L276.4,170.9 L277.3,170.6 L278.2,170.7 L279.1,170.6 L280.0,170.8 L280.5,170.8 L280.9,170.8 L281.4,170.8 L281.9,170.8 L282.3,170.8 L282.8,170.8 L283.3,170.8 L283.7,170.8 L284.2,170.8 L284.7,170.8 L285.1,170.8 L285.6,170.8 L286.0,170.8 L286.5,170.8 L287.0,170.8 L287.4,170.8 L287.9,170.8 L288.3,170.8 L288.8,170.8 L289.2,170.8 L289.6,170.8 L290.1,170.8 L290.5,170.8 L290.9,170.8 L291.4,170.8 L291.8,170.8 L292.2,170.8 L292.6,170.8 L293.0,170.8 L293.4,170.8 L293.8,170.8 L294.2,170.8 L294.6,170.8 L294.9,170.8 L295.3,170.8 L295.7,170.8 L296.0,170.8 L296.4,170.8 L296.7,170.8 L297.0,170.8 L297.3,170.8 L297.6,170.8 L297.9,170.8 L298.2,170.7 L298.5,170.7 L298.8,170.7 L299.1,170.7 L299.3,170.7 L299.5,170.7 L299.8,170.7 L300.0,170.7 L300.6,170.7 L301.0,170.7 L301.5,170.6 L301.9,170.6 L302.2,170.6 L302.6,170.6 L302.9,170.5 L303.2,170.5 L303.6,170.4 L304.0,170.4 L304.4,170.3 L304.8,170.3 L305.2,170.2 L305.6,170.1 L306.0,170.0 L306.4,169.9 L306.8,169.9 L307.2,169.8 L307.6,169.7 L308.0,169.7 L308.4,169.7 L308.8,169.7 L309.2,169.7 L309.6,169.8 L310.0,169.9 L310.4,169.9 L310.8,170.0 L311.2,170.1 L311.7,170.2 L312.1,170.3 L312.5,170.3 L313.0,170.4 L313.4,170.4 L313.7,170.5 L314.1,170.5 L314.5,170.5 L314.8,170.5 L315.2,170.6 L315.6,170.6 L315.9,170.6 L316.3,170.6 L316.7,170.6 L317.2,170.6 L317.6,170.6 L318.0,170.7 L318.5,170.7 L319.0,170.7 L319.5,170.7 L320.0,170.7 L320.3,170.7 L320.6,170.7 L320.9,170.7 L321.2,170.7 L321.5,170.7 L321.9,170.7 L322.2,170.7 L322.6,170.7 L322.9,170.7 L323.3,170.7 L323.7,170.7 L324.1,170.8 L324.5,170.8 L324.9,170.8 L325.3,170.8 L325.7,170.8 L326.1,170.8 L326.5,170.8 L327.0,170.8 L327.4,170.8 L327.9,170.8 L328.3,170.8 L328.7,170.8 L329.2,170.8 L329.6,170.8 L330.1,170.8 L330.6,170.8 L331.0,170.8 L331.5,170.8 L331.9,170.8 L332.4,170.8 L332.9,170.8 L333.3,170.8 L333.8,170.8 L334.3,170.8 L334.7,170.8 L335.2,170.8 L335.6,170.8 L336.1,170.7 L336.5,170.7 L337.0,170.7 L337.4,170.7 L337.9,170.7 L338.3,170.7 L338.7,170.7 L339.2,170.7 L339.6,170.7 L340.0,170.7 L340.4,170.7 L340.8,170.7 L341.2,170.7 L341.6,170.7 L342.0,170.7 L342.3,170.7 L342.7,170.7 L343.1,170.7 L343.4,170.7 L343.7,170.7 L344.1,170.7 L344.4,170.7 L344.7,170.7 L345.0,170.7 L345.5,170.7 L346.0,170.7 L346.5,170.7 L346.9,170.7 L347.4,170.7 L347.8,170.7 L348.2,170.7 L348.6,170.7 L349.0,170.7 L349.4,170.7 L349.8,170.7 L350.2,170.7 L350.5,170.7 L350.9,170.6 L351.3,170.6 L351.6,170.6 L352.0,170.6 L352.3,170.6 L352.7,170.6 L353.0,170.6 L353.5,170.6 L353.9,170.6 L354.3,170.6 L354.7,170.6 L355.1,170.6 L355.5,170.6 L355.9,170.6 L356.3,170.6 L356.7,170.5 L357.1,170.5 L357.5,170.4 L357.9,170.3 L358.2,170.2 L358.6,170.1 L358.9,170.0 L359.3,169.9 L359.7,169.8 L360.1,169.6 L360.4,169.5 L360.8,169.3 L361.2,169.2 L361.6,169.0 L362.0,168.9 L362.4,168.7 L362.8,168.6 L363.2,168.4 L363.6,168.3 L364.0,168.2 L364.3,168.1 L364.7,167.9 L365.1,167.8 L365.5,167.7 L365.8,167.5 L366.2,167.4 L366.6,167.3 L367.0,167.1 L367.4,167.0 L367.8,166.9 L368.2,166.7 L368.6,166.6 L369.0,166.5 L369.4,166.4 L369.8,166.2 L370.2,166.1 L370.6,166.0 L371.0,165.9 L371.4,165.9 L371.8,165.8 L372.2,165.7 L372.6,165.6 L373.0,165.6 L373.5,165.5 L373.9,165.5 L374.3,165.4 L374.7,165.4 L375.1,165.3 L375.5,165.3 L375.9,165.3 L376.4,165.3 L376.8,165.3 L377.2,165.3 L377.6,165.3 L378.0,165.3 L378.4,165.3 L378.8,165.3 L379.3,165.3 L379.7,165.3 L380.1,165.3 L380.5,165.4 L380.9,165.4 L381.3,165.5 L381.7,165.5 L382.1,165.6 L382.5,165.7 L383.0,165.7 L383.4,165.8 L383.8,165.9 L384.2,166.0 L384.6,166.1 L385.0,166.1 L385.5,166.2 L385.9,166.3 L386.3,166.3 L386.7,166.4 L387.1,166.4 L387.5,166.4 L387.9,166.4 L388.3,166.4 L388.7,166.4 L389.1,166.3 L389.5,166.3 L389.9,166.2 L390.3,166.1 L390.7,166.0 L391.1,166.0 L391.5,165.9 L391.9,165.8 L392.2,165.6 L392.6,165.5 L393.0,165.4 L393.4,165.3 L393.8,165.2 L394.2,165.1 L394.6,165.0 L395.0,164.9 L395.4,164.8 L395.8,164.7 L396.2,164.6 L396.6,164.5 L397.0,164.5 L397.4,164.4 L397.8,164.3 L398.2,164.2 L398.6,164.1 L399.0,164.0 L399.4,163.9 L399.8,163.9 L400.2,163.8 L400.6,163.7 L401.0,163.6 L401.4,163.6 L401.9,163.5 L402.3,163.4 L402.7,163.4 L403.1,163.3 L403.5,163.3 L404.0,163.2 L404.4,163.2 L404.8,163.2 L405.2,163.2 L405.6,163.1 L406.0,163.1 L406.4,163.1 L406.8,163.1 L407.2,163.1 L407.6,163.1 L408.0,163.1 L408.4,163.1 L408.8,163.2 L409.3,163.2 L409.7,163.2 L410.1,163.2 L410.5,163.2 L410.9,163.3 L411.4,163.3 L411.8,163.3 L412.2,163.3 L412.6,163.4 L413.0,163.4 L413.4,163.4 L413.9,163.5 L414.3,163.5 L414.7,163.6 L415.1,163.6 L415.5,163.6 L415.9,163.7 L416.3,163.7 L416.7,163.8 L417.1,163.8 L417.5,163.9 L417.9,163.9 L418.3,164.0 L418.7,164.0 L419.1,164.1 L419.5,164.1 L419.9,164.2 L420.3,164.3 L420.7,164.3 L421.1,164.4 L421.5,164.5 L421.9,164.5 L422.3,164.6 L422.7,164.7 L423.1,164.7 L423.5,164.8 L423.9,164.9 L424.3,165.0 L424.7,165.1 L425.0,165.1 L425.4,165.2 L425.8,165.3 L426.2,165.4 L426.6,165.5 L427.0,165.6 L427.4,165.7 L427.8,165.8 L428.2,166.0 L428.6,166.1 L429.0,166.2 L429.4,166.3 L429.8,166.5 L430.2,166.6 L430.5,166.7 L430.9,166.8 L431.3,167.0 L431.7,167.1 L432.1,167.2 L432.5,167.3 L432.8,167.5 L433.2,167.6 L433.6,167.7 L434.0,167.8 L434.4,167.9 L434.8,168.0 L435.2,168.1 L435.6,168.2 L436.0,168.3 L436.4,168.4 L436.8,168.5 L437.2,168.6 L437.6,168.6 L438.0,168.7 L438.5,168.8 L438.9,168.9 L439.3,169.0 L439.7,169.1 L440.1,169.1 L440.5,169.2 L440.9,169.3 L441.3,169.3 L441.7,169.4 L442.2,169.5 L442.6,169.5 L443.0,169.6 L443.4,169.7 L443.8,169.7 L444.2,169.8 L444.6,169.8 L445.0,169.8 L445.4,169.9 L445.8,169.9 L446.2,170.0 L446.6,170.0 L447.0,170.0 L447.4,170.1 L447.8,170.1 L448.2,170.1 L448.6,170.2 L449.0,170.2 L449.4,170.2 L449.9,170.3 L450.3,170.3 L450.7,170.3 L451.1,170.4 L451.5,170.4 L451.9,170.4 L452.3,170.5 L452.7,170.5" stroke="#4654bd" stroke-width="2.0" fill="none" stroke-linejoin="round" stroke-linecap="round"/>
<path d="M33.0,135.8 L34.2,136.2 L35.3,136.6 L36.6,136.9 L37.8,136.4 L38.9,136.2 L40.2,136.4 L41.4,135.7 L42.7,137.5 L43.9,135.8 L45.2,134.9 L46.5,135.1 L47.7,135.2 L49.0,134.6 L50.2,134.4 L51.3,134.8 L52.5,134.3 L53.7,135.9 L55.0,135.5 L56.2,135.2 L57.4,135.4 L58.6,135.4 L59.5,137.5 L60.3,137.9 L61.6,136.9 L62.8,137.4 L64.0,137.3 L65.3,136.8 L66.2,135.9 L67.1,135.8 L67.9,135.3 L69.2,136.4 L70.3,135.2 L71.5,136.0 L72.6,136.1 L73.7,138.4 L74.8,137.0 L75.9,137.1 L77.1,137.3 L78.3,136.8 L79.6,136.3 L80.5,136.6 L81.7,135.9 L82.8,135.8 L84.0,136.4 L85.1,135.9 L86.4,135.3 L87.2,135.2 L88.1,135.9 L89.0,137.1 L90.0,136.1 L91.0,135.3 L92.1,136.2 L93.3,134.8 L94.5,135.5 L95.7,135.5 L96.9,135.7 L97.8,136.1 L98.7,135.8 L99.5,136.9 L100.4,134.9 L101.3,137.0 L102.1,136.5 L103.0,135.6 L103.8,135.9 L105.1,136.6 L106.3,136.4 L107.5,135.7 L108.6,136.1 L109.9,137.4 L111.1,137.5 L112.2,137.1 L113.3,136.5 L114.4,136.4 L115.5,136.8 L116.6,136.5 L117.8,137.1 L119.0,137.6 L119.9,136.6 L120.8,137.5 L121.8,137.4 L122.7,138.2 L123.6,136.2 L124.6,137.3 L125.6,137.0 L126.7,137.4 L127.8,137.5 L128.9,136.9 L130.0,137.7 L131.1,137.0 L132.3,137.4 L133.5,137.4 L134.7,137.6 L136.0,137.5 L137.2,137.3 L138.5,137.2 L139.4,137.7 L140.2,137.3 L141.1,137.6 L141.9,136.9 L142.8,137.8 L143.7,137.6 L144.6,137.3 L145.4,137.8 L146.3,137.8 L147.2,137.4 L148.1,137.8 L148.9,137.8 L149.8,137.5 L150.7,137.4 L151.5,137.8 L152.4,137.7 L153.3,137.4 L154.1,137.4 L155.0,137.4 L155.8,137.3 L157.1,137.5 L158.4,137.3 L159.6,137.8 L160.8,137.5 L162.0,137.5 L163.2,137.3 L164.4,137.5 L165.7,137.8 L166.9,138.2 L168.1,137.7 L169.4,137.8 L170.7,137.6 L171.9,137.6 L173.2,137.7 L174.4,137.7 L175.7,137.9 L177.0,137.9 L178.2,137.7 L179.5,138.0 L180.7,137.6 L182.0,137.5 L183.2,137.8 L184.5,138.2 L185.7,137.4 L186.9,137.5 L188.1,137.2 L189.3,137.5 L190.5,137.9 L191.7,138.3 L192.8,137.5 L193.9,137.5 L195.1,137.9 L196.2,137.6 L197.2,137.7 L198.3,137.8 L199.3,138.0 L200.5,137.6 L201.4,137.8 L202.3,137.4 L203.3,137.7 L204.2,137.7 L205.1,137.5 L206.1,137.6 L207.0,137.6 L207.9,137.7 L208.8,137.7 L209.7,137.6 L210.5,137.8 L211.4,138.1 L212.7,137.6 L213.9,137.8 L215.1,137.9 L216.2,138.1 L217.3,138.4 L218.3,137.8 L219.3,138.0 L220.2,137.4 L221.5,137.7 L222.0,137.5 L222.4,137.4 L222.8,137.3 L223.2,137.2 L223.6,137.1 L223.9,137.1 L224.3,137.0 L224.7,136.9 L225.1,136.8 L225.5,136.8 L226.0,136.7 L226.3,136.7 L226.6,136.6 L226.9,136.6 L227.3,136.6 L227.6,136.6 L227.9,136.6 L228.3,136.6 L228.7,136.5 L229.0,136.5 L229.4,136.5 L229.8,136.5 L230.2,136.8 L231.3,136.7 L232.6,136.6 L233.8,136.5 L234.7,136.8 L235.6,136.4 L236.4,136.6 L237.3,136.6 L238.2,136.6 L239.1,136.6 L240.0,136.7 L241.1,136.3 L242.2,136.7 L243.4,136.3 L244.6,136.7 L245.8,136.3 L247.0,136.2 L248.3,136.2 L249.6,136.2 L250.8,136.4 L252.1,136.6 L253.4,137.0 L254.6,136.6 L255.9,136.6 L257.1,136.3 L258.3,136.2 L259.4,136.8 L260.6,136.3 L261.6,136.8 L262.9,136.4 L263.8,136.3 L265.0,136.4 L266.2,136.7 L267.3,137.5 L268.4,137.6 L269.6,136.9 L270.7,136.8 L271.9,137.6 L273.2,137.5 L274.1,137.5 L275.0,137.5 L276.0,137.4 L277.1,137.3 L278.2,137.2 L279.3,137.6 L280.4,137.7 L281.6,137.3 L282.8,137.3 L284.0,137.4 L285.2,138.0 L286.4,137.9 L287.7,137.4 L288.9,137.6 L290.2,137.6 L291.5,137.6 L292.3,137.5 L293.2,138.0 L294.0,137.4 L294.9,138.4 L295.7,137.8 L296.6,137.5 L297.5,137.8 L298.3,137.3 L299.6,138.1 L300.8,137.5 L301.9,137.7 L303.1,137.7 L304.2,137.9 L305.4,137.7 L306.5,137.6 L307.7,137.8 L308.9,137.9 L310.0,138.0 L311.2,137.8 L312.4,137.8 L313.6,137.7 L314.8,138.1 L316.0,137.8 L317.2,137.7 L318.4,137.8 L319.6,137.5 L320.8,137.9 L322.0,137.8 L323.3,137.8 L324.5,137.9 L325.8,137.8 L327.0,137.7 L328.3,137.9 L329.1,137.8 L330.0,137.9 L331.1,137.7 L332.3,137.7 L333.5,137.9 L334.7,137.9 L335.9,137.9 L337.2,137.7 L338.4,137.9 L339.3,137.8 L340.1,137.9 L341.0,137.9 L341.9,137.9 L342.8,137.9 L343.6,137.8 L344.5,137.9 L345.4,137.9 L346.3,137.8 L347.1,137.9 L348.0,138.0 L348.9,137.8 L349.8,138.1 L350.7,137.6 L351.5,137.6 L352.4,137.7 L353.3,137.7 L354.1,137.8 L355.0,138.1 L356.3,137.8 L357.5,137.9 L358.7,137.7 L359.9,137.9 L361.1,137.9 L362.3,138.1 L363.4,138.0 L364.5,137.6 L365.6,137.9 L366.6,137.9 L367.6,137.6 L368.5,138.1 L369.4,137.8 L370.5,137.9 L371.5,138.0 L372.5,138.0 L373.4,138.1 L374.3,138.2 L375.2,137.9 L376.4,137.7 L377.6,138.0 L378.7,138.1 L379.7,138.0 L380.7,137.9 L381.7,138.0 L383.0,138.0 L383.9,137.9 L385.1,137.9 L386.2,138.1 L387.4,138.0 L387.7,138.0 L388.1,137.9 L388.5,137.8 L388.8,137.6 L389.2,137.4 L389.5,137.1 L389.8,136.8 L390.2,136.5 L390.5,136.2 L390.9,135.9 L391.3,135.6 L391.6,135.4 L392.0,135.2 L392.4,135.1 L392.7,134.9 L393.1,134.7 L393.5,134.6 L393.9,134.4 L394.3,134.3 L394.7,134.2 L395.2,134.0 L395.6,133.9 L395.9,133.8 L396.3,133.7 L396.7,133.6 L397.1,133.5 L397.5,133.4 L397.9,133.4 L398.3,133.3 L398.7,133.2 L399.1,133.1 L399.5,133.0 L399.9,133.0 L400.3,132.9 L400.7,132.8 L401.1,132.8 L401.5,132.7 L401.9,132.6 L402.3,132.6 L402.7,132.5 L403.1,132.4 L403.5,132.4 L403.9,132.3 L404.4,132.2 L404.8,132.2 L405.2,132.1 L405.5,132.0 L405.9,132.0 L406.3,131.9 L406.7,131.8 L407.1,131.8 L407.6,131.7 L408.0,131.7 L408.4,131.6 L408.8,131.5 L409.2,131.5 L409.6,131.4 L410.0,131.3 L410.5,131.3 L410.9,131.2 L411.3,131.1 L411.7,131.1 L412.2,131.0 L412.6,130.9 L413.0,130.9 L413.4,130.8 L413.9,130.8 L414.3,130.7 L414.7,130.7 L415.1,130.6 L415.5,130.6 L415.9,130.6 L416.3,130.6 L416.7,130.5 L417.1,130.5 L417.5,130.5 L417.9,130.5 L418.3,130.5 L418.7,130.5 L419.1,130.5 L419.5,130.5 L419.9,130.5 L420.3,130.6 L420.7,130.6 L421.1,130.6 L421.5,130.6 L421.9,130.7 L422.3,130.7 L422.7,130.8 L423.1,130.9 L423.5,130.9 L423.9,131.0 L424.3,131.1 L424.7,131.2 L425.1,131.2 L425.5,131.3 L426.0,131.3 L426.4,131.3 L426.8,131.3 L427.2,131.3 L427.6,131.2 L428.0,131.2 L428.4,131.1 L428.8,131.1 L429.2,131.0 L429.6,130.9 L430.0,130.8 L430.4,130.7 L430.8,130.6 L431.2,130.5 L431.6,130.4 L432.0,130.3 L432.4,130.2 L432.8,130.1 L433.2,130.0 L433.5,130.0 L433.9,129.9 L434.4,129.8 L434.8,129.8 L435.2,129.7 L435.7,129.7 L436.1,129.7 L436.5,129.6 L436.9,129.6 L437.3,129.6 L437.8,129.5 L438.2,129.5 L438.6,129.5 L439.0,129.4 L439.4,129.4 L439.9,129.3 L440.3,129.2 L440.8,129.2 L441.2,129.1 L441.6,129.1 L442.1,129.1 L442.5,129.0 L442.9,129.0 L443.2,129.1 L443.5,129.1 L443.8,129.2 L444.2,129.5 L444.6,129.8 L444.9,130.2 L445.2,130.6 L445.4,130.9 L445.7,131.2 L446.0,131.5 L446.2,131.8 L446.5,132.1 L446.8,132.4 L447.1,132.7 L447.4,133.0 L447.7,133.2 L448.1,133.5 L448.5,133.7 L448.9,133.9 L449.4,134.1 L449.8,134.3 L450.2,134.5 L450.6,134.7 L450.9,134.9 L451.2,135.2 L451.6,135.5 L451.9,135.8 L452.1,136.1 L452.4,136.4 L452.7,136.7 L453.0,137.0" stroke="#2233b0" stroke-width="2.0" fill="none" stroke-linejoin="round" stroke-linecap="round"/>
<path d="M33.0,103.2 L34.2,103.1 L35.5,103.6 L36.7,103.3 L38.0,104.1 L39.2,104.4 L40.5,104.0 L41.7,105.7 L43.0,104.6 L44.2,104.9 L45.5,105.4 L46.7,103.2 L47.8,104.9 L48.9,104.1 L50.1,104.6 L51.1,103.5 L52.2,103.1 L53.3,102.4 L54.5,102.1 L55.8,102.4 L56.9,104.3 L58.2,103.8 L59.4,104.8 L60.5,105.2 L61.5,103.0 L62.3,102.7 L63.4,102.1 L64.6,103.5 L65.5,102.6 L66.7,103.0 L67.8,103.9 L69.0,103.1 L70.2,104.7 L71.1,103.7 L71.9,104.1 L73.2,104.5 L74.4,104.9 L75.7,103.8 L76.9,104.7 L78.2,104.4 L79.4,103.4 L80.5,102.4 L81.8,104.0 L82.6,104.2 L83.5,104.4 L84.8,104.4 L86.0,105.9 L87.1,105.8 L88.2,104.5 L89.5,103.6 L90.5,104.4 L91.6,103.8 L92.6,103.7 L93.6,105.5 L94.8,105.5 L96.0,103.8 L97.2,104.6 L98.1,105.5 L98.9,103.2 L99.8,104.4 L100.7,103.5 L101.6,103.6 L102.6,103.6 L103.5,104.0 L104.4,104.2 L105.3,104.3 L106.2,103.9 L107.1,103.9 L107.9,104.5 L109.2,104.0 L110.4,104.8 L111.6,103.9 L112.8,104.8 L114.1,103.6 L115.3,104.4 L116.5,104.1 L117.8,103.9 L119.0,103.8 L120.2,103.4 L121.4,103.9 L122.6,104.0 L123.9,104.6 L125.0,104.8 L126.2,104.7 L127.4,104.2 L128.5,104.3 L129.6,104.2 L130.9,104.6 L131.8,104.3 L132.7,104.3 L133.5,104.3 L134.4,104.8 L135.3,104.5 L136.2,104.6 L137.0,104.7 L138.3,105.0 L139.5,104.4 L140.7,104.7 L141.8,105.0 L142.9,104.8 L143.9,104.7 L145.2,104.7 L145.7,104.6 L146.1,104.5 L146.5,104.4 L146.9,104.3 L147.3,104.3 L147.7,104.2 L148.1,104.1 L148.5,104.0 L148.9,103.9 L149.2,103.8 L149.6,103.7 L150.1,103.6 L150.5,103.5 L150.9,103.5 L151.3,103.4 L151.7,103.3 L152.1,103.2 L152.5,103.1 L152.9,103.0 L153.3,102.8 L153.7,102.6 L154.1,102.3 L154.5,102.1 L154.9,101.8 L155.3,101.7 L155.7,101.6 L156.0,101.6 L156.3,101.8 L156.5,102.1 L156.8,102.5 L157.0,103.0 L157.2,103.5 L157.4,103.9 L157.6,104.3 L157.9,104.6 L158.1,104.7 L158.4,104.6 L158.7,104.3 L159.0,104.0 L159.3,103.6 L159.6,103.2 L160.0,103.0 L160.4,102.9 L160.8,103.0 L161.3,103.0 L161.8,103.2 L162.2,103.3 L162.7,103.4 L163.1,103.5 L163.5,103.7 L163.9,103.9 L164.3,104.1 L164.6,104.2 L165.0,104.3 L165.4,104.3 L165.7,104.2 L166.0,103.9 L166.3,103.6 L166.6,103.3 L167.0,102.9 L167.3,102.6 L167.6,102.3 L167.9,102.0 L168.2,101.9 L168.6,101.9 L168.9,101.9 L169.3,102.0 L169.7,102.2 L170.1,102.4 L170.5,102.6 L170.9,102.8 L171.3,103.0 L171.6,103.2 L172.0,103.5 L172.4,103.7 L172.7,104.0 L173.1,104.2 L173.5,104.5 L173.9,104.7 L174.3,104.9 L174.7,105.0 L175.1,105.1 L175.4,105.1 L175.8,105.1 L176.2,105.1 L176.5,105.0 L176.9,105.0 L177.3,104.9 L177.7,104.8 L178.2,104.8 L178.6,104.7 L179.1,104.7 L179.4,104.7 L179.7,104.7 L180.1,104.5 L181.1,104.8 L182.1,104.7 L183.2,104.4 L184.4,104.5 L185.7,104.3 L186.6,104.5 L187.5,104.5 L188.5,104.2 L189.5,104.3 L190.6,104.6 L191.4,104.6 L192.3,104.3 L193.2,103.9 L194.1,104.1 L195.1,104.4 L196.1,104.5 L197.1,104.3 L198.2,104.4 L199.2,104.3 L200.3,104.6 L201.4,104.2 L202.6,104.1 L203.7,104.4 L204.9,104.5 L206.1,104.1 L207.3,104.1 L208.5,104.9 L209.8,104.1 L211.1,104.4 L211.9,104.4 L212.8,104.4 L213.7,104.6 L214.5,103.8 L215.4,104.2 L216.3,104.0 L217.2,104.7 L218.1,104.1 L219.1,104.7 L220.0,104.3 L220.9,104.9 L221.8,104.5 L222.8,104.6 L223.7,104.3 L224.7,104.3 L225.6,104.3 L226.6,104.3 L227.6,104.7 L228.5,104.9 L229.5,104.7 L230.6,104.5 L231.6,103.8 L232.5,104.9 L233.5,104.5 L234.5,104.4 L235.6,104.5 L236.6,104.3 L237.7,104.3 L238.7,104.6 L239.8,104.3 L240.9,104.9 L242.0,104.3 L243.2,104.4 L244.3,104.5 L245.5,104.7 L246.7,104.5 L247.8,104.4 L249.0,104.2 L250.2,104.4 L251.5,104.4 L252.7,104.3 L253.9,104.6 L255.2,104.5 L256.4,104.7 L257.7,104.1 L259.0,104.6 L259.8,104.2 L260.7,104.3 L261.5,105.0 L262.4,104.3 L263.2,104.3 L264.1,104.4 L265.0,105.0 L265.9,104.4 L266.7,103.9 L267.6,104.3 L268.5,104.3 L269.4,104.1 L270.2,104.5 L271.1,104.0 L272.0,104.7 L272.9,104.3 L273.8,104.4 L274.7,104.2 L275.6,104.7 L276.4,104.6 L277.3,104.6 L278.2,104.2 L279.1,104.7 L280.0,104.5 L280.9,104.3 L281.8,104.2 L282.7,104.7 L283.6,104.5 L284.4,104.0 L285.3,104.9 L286.2,104.4 L287.1,104.6 L288.0,105.0 L288.9,104.4 L289.8,104.3 L290.6,105.0 L291.5,104.6 L292.4,104.6 L293.3,104.2 L294.1,104.5 L295.0,104.6 L295.9,103.9 L296.8,104.2 L297.6,104.7 L298.5,104.4 L299.3,104.3 L300.2,104.6 L301.0,104.5 L302.3,104.4 L303.6,104.3 L304.8,104.4 L306.1,104.6 L307.3,104.5 L308.5,104.3 L309.8,104.5 L311.0,104.4 L312.2,104.5 L313.3,104.4 L314.5,104.5 L315.7,104.4 L316.8,104.4 L318.0,104.6 L319.1,104.5 L320.2,104.6 L321.3,104.5 L322.3,104.5 L323.4,104.3 L324.4,104.7 L325.5,104.5 L326.5,104.4 L327.5,104.5 L328.4,104.6 L329.4,104.4 L330.5,104.6 L331.5,104.4 L332.4,104.6 L333.4,104.4 L334.3,104.6 L335.3,104.4 L336.2,104.6 L337.1,104.5 L338.0,104.6 L338.9,104.5 L339.8,104.4 L340.7,104.3 L341.6,104.5 L342.5,104.6 L343.3,104.4 L344.2,104.4 L345.0,104.5 L346.3,104.6 L347.5,104.6 L348.8,104.7 L350.0,104.7 L351.2,104.7 L352.4,104.6 L353.5,104.8 L354.7,104.6 L355.9,104.5 L357.0,104.5 L358.1,104.6 L359.2,104.8 L360.3,104.8 L361.4,104.6 L362.5,104.6 L363.5,104.6 L364.6,104.5 L365.6,104.7 L366.6,104.6 L367.7,104.4 L368.7,104.7 L369.7,104.6 L370.9,104.6 L371.9,104.3 L372.8,104.6 L373.7,104.8 L374.6,104.5 L375.5,104.4 L376.4,104.6 L377.3,104.5 L378.2,104.4 L379.1,104.5 L379.9,104.2 L381.2,104.2 L382.4,104.3 L383.6,104.5 L384.7,104.5 L385.8,104.1 L386.9,104.4 L387.9,104.2 L388.8,104.2 L389.7,104.3 L391.0,104.5 L391.9,104.1 L393.1,104.3 L394.2,104.2 L395.3,104.2 L396.5,104.1 L397.3,103.9 L398.2,104.0 L398.6,104.0 L399.0,104.0 L399.4,104.0 L399.9,104.0 L400.3,104.0 L400.7,104.1 L401.1,104.2 L401.6,104.3 L402.0,104.5 L402.4,104.6 L402.9,104.8 L403.3,104.9 L403.7,105.0 L404.1,105.1 L404.5,105.1 L404.9,105.0 L405.2,104.9 L405.5,104.7 L405.8,104.4 L406.1,104.1 L406.4,103.8 L406.7,103.5 L406.9,103.1 L407.2,102.7 L407.4,102.3 L407.7,101.9 L408.0,101.5 L408.2,101.1 L408.5,100.7 L408.7,100.4 L408.9,100.1 L409.2,99.7 L409.4,99.4 L409.6,99.0 L409.9,98.6 L410.1,98.3 L410.3,97.9 L410.5,97.6 L410.8,97.2 L411.0,96.9 L411.2,96.6 L411.5,96.4 L411.7,96.1 L412.1,95.8 L412.4,95.4 L412.8,95.1 L413.2,94.8 L413.6,94.6 L413.9,94.5 L414.3,94.4 L414.7,94.4 L415.2,94.6 L415.6,94.8 L416.0,95.0 L416.4,95.3 L416.7,95.6 L417.0,95.9 L417.3,96.2 L417.6,96.6 L418.0,96.9 L418.3,97.2 L418.6,97.4 L419.0,97.6 L419.4,97.7 L419.8,97.7 L420.2,97.8 L420.7,97.9 L421.0,98.0 L421.4,98.1 L421.8,98.2 L422.2,98.4 L422.6,98.5 L423.0,98.7 L423.4,98.8 L423.7,99.0 L424.1,99.1 L424.5,99.3 L424.9,99.5 L425.2,99.8 L425.6,100.0 L426.0,100.2 L426.3,100.3 L426.7,100.3 L427.0,100.2 L427.3,100.1 L427.6,99.8 L427.9,99.6 L428.2,99.3 L428.5,99.0 L428.8,98.6 L429.1,98.3 L429.5,98.0 L429.8,97.7 L430.1,97.4 L430.4,97.1 L430.8,96.8 L431.2,96.5 L431.6,96.2 L431.9,95.9 L432.3,95.6 L432.7,95.3 L433.0,95.1 L433.4,95.0 L433.7,94.9 L434.0,94.9 L434.3,95.0 L434.5,95.2 L434.8,95.5 L435.0,95.9 L435.2,96.3 L435.4,96.7 L435.6,97.1 L435.9,97.5 L436.1,97.9 L436.4,98.2 L436.7,98.6 L436.9,99.0 L437.2,99.4 L437.5,99.7 L437.8,100.1 L438.1,100.4 L438.4,100.7 L438.7,100.9 L439.1,101.3 L439.6,101.6 L440.0,101.8 L440.4,101.8 L440.6,101.7 L440.8,101.5 L440.9,101.2 L441.1,100.9 L441.2,100.5 L441.4,100.1 L441.5,99.7 L441.6,99.2 L441.7,98.7 L441.9,98.2 L442.0,97.7 L442.1,97.2 L442.2,96.8 L442.3,96.3 L442.4,95.9 L442.5,95.6 L442.5,95.2 L442.6,94.8 L442.6,94.4 L442.7,94.0 L442.7,93.5 L442.8,93.1 L442.8,92.7 L442.9,92.3 L442.9,91.9 L442.9,91.4 L443.0,91.0 L443.0,90.6 L443.1,90.2 L443.1,89.8 L443.1,89.4 L443.2,89.0 L443.2,88.6 L443.3,88.2 L443.4,87.7 L443.4,87.2 L443.5,86.7 L443.6,86.2 L443.7,85.7 L443.7,85.1 L443.8,84.6 L443.9,84.1 L444.0,83.6 L444.1,83.2 L444.1,82.8 L444.2,82.5 L444.3,82.3 L444.4,82.2 L444.5,82.1 L444.6,82.2 L444.8,82.4 L444.9,82.7 L445.0,83.1 L445.2,83.5 L445.3,84.1 L445.4,84.6 L445.6,85.2 L445.7,85.7 L445.8,86.2 L445.9,86.5 L445.9,86.9 L446.0,87.3 L446.0,87.7 L446.1,88.1 L446.1,88.5 L446.2,89.0 L446.2,89.4 L446.2,89.8 L446.3,90.3 L446.3,90.7 L446.4,91.2 L446.4,91.6 L446.4,92.0 L446.5,92.5 L446.5,92.9 L446.6,93.2 L446.7,93.6 L446.7,94.0 L446.8,94.3 L446.9,94.8 L447.1,95.2 L447.2,95.6 L447.3,96.0 L447.5,96.4 L447.7,96.8 L447.8,97.1 L448.0,97.5 L448.2,97.8 L448.5,98.2 L448.7,98.5 L449.0,98.8 L449.3,99.2 L449.6,99.5 L449.9,99.9 L450.1,100.3 L450.2,100.7 L450.4,101.2 L450.5,101.8 L450.7,102.3 L450.8,102.8 L450.9,103.2 L451.1,103.6 L451.2,103.8 L451.4,103.9 L451.6,103.8 L451.8,103.4 L452.0,102.9 L452.3,102.4 L452.5,101.9 L452.7,101.5 L452.9,101.4 L453.2,101.6 L453.5,102.0 L453.7,102.5 L454.0,102.9" stroke="#0a1aa0" stroke-width="2.0" fill="none" stroke-linejoin="round" stroke-linecap="round"/>
<path d="M33.0,69.0 L34.3,70.5 L35.5,69.8 L36.8,69.6 L38.0,69.3 L39.2,70.1 L40.4,70.7 L41.7,68.5 L42.8,70.2 L44.1,68.8 L45.0,69.7 L46.1,68.6 L47.3,69.6 L48.2,68.9 L49.1,69.0 L49.9,68.1 L50.8,68.7 L51.7,68.1 L53.0,69.2 L54.1,68.2 L55.4,68.2 L56.5,68.6 L57.6,70.3 L58.7,70.3 L60.0,70.0 L61.0,70.9 L62.1,70.5 L63.2,70.6 L64.4,71.0 L65.6,72.2 L66.9,70.6 L67.7,70.7 L68.6,71.1 L69.5,70.0 L70.7,71.3 L71.8,70.2 L73.0,71.1 L74.2,70.8 L75.0,70.9 L75.9,71.0 L76.8,72.4 L77.7,70.2 L78.6,70.7 L79.5,70.7 L80.4,71.3 L81.3,72.2 L82.2,71.3 L83.1,70.3 L83.9,72.0 L85.2,70.3 L86.4,70.0 L87.5,71.2 L88.2,70.4 L88.5,70.4 L88.8,70.4 L89.1,70.4 L89.4,70.5 L89.7,70.5 L90.0,70.5 L90.5,70.6 L91.0,70.7 L91.5,70.8 L91.9,70.9 L92.3,71.0 L92.7,71.1 L93.1,71.2 L93.5,71.3 L93.8,71.4 L94.2,71.5 L94.6,71.6 L95.0,71.6 L95.4,71.6 L95.8,71.6 L96.2,71.5 L96.6,71.4 L97.0,71.4 L97.4,71.3 L97.8,71.2 L98.2,71.1 L98.6,71.0 L99.1,70.9 L99.5,70.8 L100.0,70.8 L101.0,70.7 L102.1,70.7 L103.2,71.1 L104.4,70.6 L105.6,71.0 L106.9,70.7 L107.7,70.6 L108.6,70.8 L109.5,71.0 L110.7,70.7 L111.7,70.7 L112.7,71.0 L113.8,71.1 L114.9,70.9 L116.0,71.1 L117.2,71.2 L118.3,71.1 L119.5,70.9 L120.8,71.2 L122.0,71.3 L123.3,71.5 L124.1,71.4 L125.0,71.2 L125.9,71.3 L126.8,71.4 L127.7,71.4 L128.6,71.4 L129.5,71.6 L130.7,71.6 L131.7,71.9 L132.7,71.4 L133.8,71.7 L134.9,71.9 L136.0,71.7 L137.1,71.7 L138.3,71.9 L139.4,71.9 L140.6,71.6 L141.8,71.9 L143.0,71.8 L144.2,71.5 L145.4,71.4 L146.7,71.6 L147.9,72.0 L149.1,71.6 L150.4,71.6 L151.7,71.6 L152.9,72.0 L154.2,71.7 L155.5,72.0 L156.7,71.5 L158.0,72.0 L159.3,71.6 L160.5,71.5 L161.8,71.6 L163.0,71.8 L164.3,71.7 L165.5,71.5 L166.8,71.6 L168.0,71.9 L169.2,71.5 L170.4,71.4 L171.6,71.6 L172.8,71.7 L174.0,71.4 L175.2,71.7 L176.5,71.7 L177.7,71.5 L178.9,71.4 L180.1,71.7 L181.4,71.6 L182.6,71.8 L183.8,71.8 L185.0,72.0 L186.3,71.8 L187.5,71.5 L188.7,71.7 L190.0,71.9 L191.2,71.7 L192.4,71.6 L193.6,71.5 L194.8,71.7 L196.0,71.6 L197.2,71.7 L198.4,71.5 L199.6,71.9 L200.8,71.2 L202.0,71.6 L203.1,71.7 L204.3,71.7 L205.5,71.6 L206.6,71.5 L207.8,71.7 L208.9,71.6 L210.0,71.7 L210.9,71.6 L211.7,71.5 L212.6,71.3 L213.4,71.6 L214.3,71.3 L215.2,71.3 L216.0,71.6 L216.9,71.3 L217.7,71.2 L218.6,71.3 L219.4,71.0 L220.7,71.5 L222.0,71.3 L223.2,71.6 L224.5,71.3 L225.7,71.2 L226.9,71.1 L228.1,71.1 L229.3,71.3 L230.5,70.9 L231.7,70.9 L232.9,71.0 L234.0,71.4 L235.1,71.0 L236.2,71.0 L237.3,71.1 L238.3,71.1 L239.3,70.8 L240.5,70.6 L241.4,70.6 L242.3,71.0 L243.2,70.8 L244.1,70.6 L245.0,70.7 L245.9,71.0 L247.1,70.7 L248.4,70.9 L249.6,70.6 L250.7,70.9 L251.9,70.9 L252.9,71.0 L254.0,70.8 L255.0,70.0 L255.9,70.7 L256.8,70.5 L258.0,70.5 L259.2,70.2 L260.4,69.9 L261.6,70.3 L262.8,69.9 L263.8,70.5 L264.9,70.7 L266.0,70.9 L267.2,70.4 L268.1,70.7 L269.0,71.3 L270.0,71.0 L271.1,71.0 L272.1,71.2 L273.0,70.9 L274.1,71.4 L275.1,71.3 L276.2,71.2 L277.4,71.3 L278.6,71.3 L279.8,71.4 L281.0,71.2 L282.3,71.2 L283.2,71.5 L284.0,71.6 L284.9,71.4 L285.8,71.5 L286.6,71.5 L287.5,71.7 L288.4,71.6 L289.3,71.7 L290.2,71.7 L291.1,71.7 L291.9,71.6 L292.8,71.8 L293.7,71.8 L294.6,71.8 L295.4,71.6 L296.3,71.7 L297.5,71.8 L298.8,71.7 L300.0,71.9 L301.2,71.9 L302.4,71.8 L303.6,71.8 L304.8,72.0 L305.9,72.0 L307.1,71.9 L308.3,71.9 L309.4,71.8 L310.6,71.8 L311.8,71.8 L313.0,71.9 L314.1,71.9 L315.3,71.9 L316.5,72.1 L317.7,71.6 L318.9,71.9 L320.1,71.9 L321.3,71.7 L322.5,72.0 L323.7,71.8 L325.0,71.7 L326.2,71.9 L327.5,71.9 L328.7,71.8 L329.6,71.8 L330.7,72.0 L331.9,71.6 L333.1,71.7 L334.2,71.7 L335.4,71.7 L336.7,71.9 L337.9,71.6 L339.1,71.5 L340.4,71.7 L341.7,71.9 L342.9,71.7 L343.8,71.8 L344.6,71.6 L345.5,71.5 L346.3,71.5 L347.2,71.8 L348.1,71.8 L348.9,71.7 L349.8,71.6 L350.6,71.6 L351.5,71.8 L352.3,71.7 L353.6,71.7 L354.9,71.7 L356.1,71.7 L357.3,71.4 L358.6,71.6 L359.8,71.5 L361.0,71.5 L362.1,71.5 L363.3,71.5 L364.4,71.5 L365.5,71.4 L366.6,71.5 L367.7,71.4 L368.7,71.5 L369.7,71.6 L371.0,71.6 L371.9,71.5 L372.8,71.5 L373.8,71.5 L374.7,71.4 L375.6,71.5 L376.4,71.4 L377.3,71.4 L378.2,71.4 L379.4,71.3 L380.7,71.4 L381.8,71.4 L383.0,71.3 L384.1,71.1 L385.1,71.2 L386.1,71.2 L387.1,71.1 L388.0,71.3 L389.0,71.4 L389.9,71.4 L390.7,71.2 L391.9,71.2 L393.0,71.3 L394.0,71.2 L394.9,71.2 L395.4,71.3 L395.8,71.2 L396.2,71.2 L396.7,71.0 L396.9,70.9 L397.2,70.7 L397.5,70.6 L397.7,70.4 L398.0,70.2 L398.3,70.0 L398.6,69.7 L398.9,69.5 L399.2,69.2 L399.5,68.9 L399.8,68.7 L400.1,68.4 L400.4,68.0 L400.7,67.7 L401.0,67.4 L401.4,67.1 L401.7,66.8 L402.0,66.4 L402.3,66.1 L402.6,65.8 L402.9,65.4 L403.2,65.1 L403.5,64.8 L403.8,64.5 L404.1,64.2 L404.4,63.9 L404.7,63.6 L405.0,63.3 L405.2,63.0 L405.5,62.7 L405.8,62.4 L406.1,62.1 L406.3,61.8 L406.6,61.4 L406.9,61.1 L407.1,60.8 L407.4,60.5 L407.7,60.2 L407.9,59.9 L408.2,59.5 L408.5,59.2 L408.7,58.9 L409.0,58.6 L409.2,58.3 L409.5,58.0 L409.7,57.7 L410.0,57.4 L410.3,57.1 L410.5,56.8 L410.8,56.6 L411.0,56.3 L411.3,56.0 L411.6,55.6 L411.9,55.3 L412.2,54.9 L412.5,54.6 L412.8,54.2 L413.1,53.9 L413.4,53.6 L413.7,53.3 L414.0,53.0 L414.3,52.7 L414.6,52.4 L414.9,52.2 L415.2,51.9 L415.5,51.7 L415.8,51.5 L416.2,51.3 L416.6,51.1 L417.0,51.0 L417.5,50.9 L417.9,50.8 L418.3,50.7 L418.7,50.6 L419.2,50.6 L419.6,50.5 L419.9,50.3 L420.3,50.2 L420.7,50.0 L421.0,49.8 L421.4,49.6 L421.7,49.4 L422.0,49.1 L422.4,48.9 L422.7,48.7 L423.0,48.4 L423.3,48.1 L423.6,47.9 L424.0,47.6 L424.3,47.3 L424.6,47.0 L424.9,46.7 L425.2,46.4 L425.5,46.1 L425.7,45.8 L426.0,45.4 L426.2,44.9 L426.5,44.4 L426.7,43.9 L426.9,43.6 L427.1,43.5 L427.3,43.6 L427.4,44.0 L427.5,44.5 L427.7,45.1 L427.8,45.7 L428.0,46.2 L428.1,46.6 L428.3,46.7 L428.4,46.7 L428.6,46.5 L428.8,46.3 L429.0,46.1 L429.1,45.7 L429.3,45.3 L429.5,44.9 L429.7,44.5 L429.9,44.0 L430.1,43.5 L430.3,43.0 L430.5,42.6 L430.7,42.1 L430.8,41.7 L431.0,41.3 L431.2,40.9 L431.3,40.5 L431.5,40.1 L431.6,39.7 L431.7,39.3 L431.9,38.9 L432.0,38.5 L432.1,38.1 L432.3,37.7 L432.4,37.3 L432.5,36.9 L432.7,36.4 L432.8,36.0 L432.9,35.6 L433.0,35.2 L433.1,34.7 L433.2,34.3 L433.4,33.8 L433.5,33.2 L433.6,32.7 L433.7,32.2 L433.8,31.7 L433.9,31.1 L434.0,30.6 L434.1,30.2 L434.3,29.7 L434.4,29.3 L434.5,29.0 L434.6,28.6 L434.7,28.4 L434.9,28.2 L435.0,28.1 L435.1,28.0 L435.3,28.1 L435.6,28.3 L435.8,28.7 L436.0,29.1 L436.3,29.6 L436.5,30.2 L436.7,30.7 L436.8,31.0 L436.9,31.3 L437.0,31.6 L437.1,32.0 L437.1,32.3 L437.2,32.7 L437.3,33.0 L437.3,33.4 L437.4,33.8 L437.5,34.2 L437.5,34.6 L437.6,35.1 L437.6,35.5 L437.7,35.9 L437.7,36.4 L437.8,36.8 L437.8,37.3 L437.9,37.7 L437.9,38.2 L438.0,38.7 L438.0,39.1 L438.1,39.6 L438.1,39.9 L438.2,40.3 L438.2,40.7 L438.3,41.0 L438.3,41.4 L438.4,41.8 L438.4,42.1 L438.5,42.5 L438.5,42.9 L438.6,43.3 L438.6,43.7 L438.7,44.1 L438.7,44.5 L438.8,44.9 L438.8,45.3 L438.8,45.8 L438.9,46.2 L438.9,46.6 L439.0,47.0 L439.0,47.4 L439.1,47.9 L439.1,48.3 L439.2,48.7 L439.2,49.1 L439.3,49.5 L439.3,50.0 L439.4,50.4 L439.4,50.8 L439.4,51.2 L439.5,51.6 L439.5,52.0 L439.6,52.5 L439.6,52.9 L439.7,53.3 L439.7,53.7 L439.7,54.1 L439.8,54.5 L439.8,54.8 L439.9,55.2 L439.9,55.6 L439.9,56.0 L440.0,56.5 L440.0,56.9 L440.1,57.4 L440.1,57.8 L440.1,58.3 L440.2,58.7 L440.2,59.2 L440.2,59.7 L440.3,60.1 L440.3,60.6 L440.3,61.0 L440.4,61.5 L440.4,61.9 L440.4,62.4 L440.4,62.8 L440.5,63.3 L440.5,63.7 L440.5,64.1 L440.6,64.5 L440.6,64.9 L440.7,65.3 L440.7,65.6 L440.7,66.0 L440.8,66.3 L440.8,66.7 L440.9,67.0 L440.9,67.3 L441.0,67.5 L441.0,67.8 L441.1,68.0 L441.3,68.5 L441.5,69.0 L441.6,69.4 L441.8,69.7 L442.0,69.8 L442.1,69.7 L442.2,69.5 L442.3,69.1 L442.3,68.7 L442.4,68.2 L442.5,67.6 L442.5,67.0 L442.6,66.4 L442.7,65.8 L442.7,65.2 L442.8,64.7 L442.9,64.2 L443.0,63.9 L443.0,63.7 L443.1,63.6 L443.2,63.7 L443.3,63.9 L443.4,64.2 L443.5,64.7 L443.6,65.2 L443.7,65.7 L443.8,66.2 L443.9,66.7 L444.0,67.1 L444.1,67.5 L444.2,68.0 L444.3,68.6 L444.4,69.1 L444.5,69.6 L444.6,70.0 L444.7,70.4 L444.8,70.6 L444.9,70.7 L445.0,70.6 L445.2,70.3 L445.3,69.8 L445.5,69.3 L445.7,68.8 L445.9,68.3 L446.1,68.0 L446.4,67.8 L446.8,67.6 L447.2,67.5 L447.5,67.4 L447.9,67.1 L448.1,66.8 L448.3,66.5 L448.5,66.1 L448.6,65.6 L448.8,65.1 L449.0,64.6 L449.1,64.1 L449.3,63.6 L449.4,63.1 L449.6,62.7 L449.7,62.3 L449.9,62.0 L450.0,61.9 L450.2,61.8 L450.4,61.9 L450.6,62.1 L450.8,62.4 L450.9,62.8 L451.1,63.3 L451.3,63.8 L451.5,64.3 L451.6,64.8 L451.8,65.3 L451.9,65.7 L452.0,66.1 L452.2,66.5 L452.3,66.9 L452.4,67.3 L452.5,67.7 L452.6,68.1 L452.7,68.6 L452.8,69.0 L452.9,69.4 L453.0,69.9 L453.1,70.3 L453.2,70.7" stroke="#000000" stroke-width="2.15" fill="none" stroke-linejoin="round" stroke-linecap="round"/>
<rect x="32" y="7.5" width="422.5" height="264.2" fill="none" stroke="#000" stroke-width="2.1"/>
<line x1="32.00" y1="271" x2="32.00" y2="278.6" stroke="#000" stroke-width="2"/>
<line x1="78.90" y1="271" x2="78.90" y2="278.6" stroke="#000" stroke-width="2"/>
<line x1="125.80" y1="271" x2="125.80" y2="278.6" stroke="#000" stroke-width="2"/>
<line x1="172.70" y1="271" x2="172.70" y2="278.6" stroke="#000" stroke-width="2"/>
<line x1="219.60" y1="271" x2="219.60" y2="278.6" stroke="#000" stroke-width="2"/>
<line x1="266.50" y1="271" x2="266.50" y2="278.6" stroke="#000" stroke-width="2"/>
<line x1="313.40" y1="271" x2="313.40" y2="278.6" stroke="#000" stroke-width="2"/>
<line x1="360.30" y1="271" x2="360.30" y2="278.6" stroke="#000" stroke-width="2"/>
<line x1="407.20" y1="271" x2="407.20" y2="278.6" stroke="#000" stroke-width="2"/>
<line x1="454.10" y1="271" x2="454.10" y2="278.6" stroke="#000" stroke-width="2"/>
<text x="32.00" y="289.45" text-anchor="middle" class="tk">4000</text>
<text x="78.90" y="289.45" text-anchor="middle" class="tk">3600</text>
<text x="125.80" y="289.45" text-anchor="middle" class="tk">3200</text>
<text x="172.70" y="289.45" text-anchor="middle" class="tk">2800</text>
<text x="219.60" y="289.45" text-anchor="middle" class="tk">2400</text>
<text x="266.50" y="289.45" text-anchor="middle" class="tk">2000</text>
<text x="313.40" y="289.45" text-anchor="middle" class="tk">1600</text>
<text x="360.30" y="289.45" text-anchor="middle" class="tk">1200</text>
<text x="407.20" y="289.45" text-anchor="middle" class="tk">800</text>
<text x="454.10" y="289.45" text-anchor="middle" class="tk">400</text>
<text x="394.8" y="22.4" class="an" style="font-size:10.5px;letter-spacing:0.05px">Si-O-Si</text>
<text x="419.9" y="85.9" class="an2">AlO<tspan font-size="6.3" dx="0.4" dy="0.9">6</tspan></text>
<text x="289.6" y="160.8" class="an">C=O</text>
<text x="95" y="252.3" class="an">OH</text>
<text x="149.2" y="252.3" class="an">CH<tspan font-size="6.4" dx="-0.2" dy="0.6">2</tspan></text>
<text x="331" y="252.1" class="an">C-N</text>
<text x="187.7" y="310.2" class="ax">Wavenumber (cm<tspan font-size="7.5" dy="-4.6">-1</tspan><tspan dy="4.6">)</tspan></text>
<text transform="translate(19.2,179.6) rotate(-90)" class="ay">Intensity (a.u.)</text>
<circle cx="487" cy="17.70" r="3.3" fill="#000000"/>
<text x="499" y="22.90" class="lg">1500 °C</text>
<circle cx="487" cy="40.07" r="3.3" fill="#0e18a0"/>
<text x="499" y="45.27" class="lg">1000 °C</text>
<circle cx="487" cy="62.44" r="3.3" fill="#2a3ab4"/>
<text x="499" y="67.64" class="lg">800 °C</text>
<circle cx="487" cy="84.81" r="3.3" fill="#4a56c0"/>
<text x="499" y="90.01" class="lg">600 °C</text>
<circle cx="487" cy="107.18" r="3.3" fill="#7078c8"/>
<text x="499" y="112.38" class="lg">400 °C</text>
<circle cx="487" cy="129.55" r="3.3" fill="#96a0f5"/>
<text x="499" y="134.75" class="lg">200 °C</text>
<circle cx="487" cy="151.92" r="3.3" fill="#c4ccf8"/>
<text x="499" y="157.12" class="lg">25 °C</text>
</svg>
</body></html>
